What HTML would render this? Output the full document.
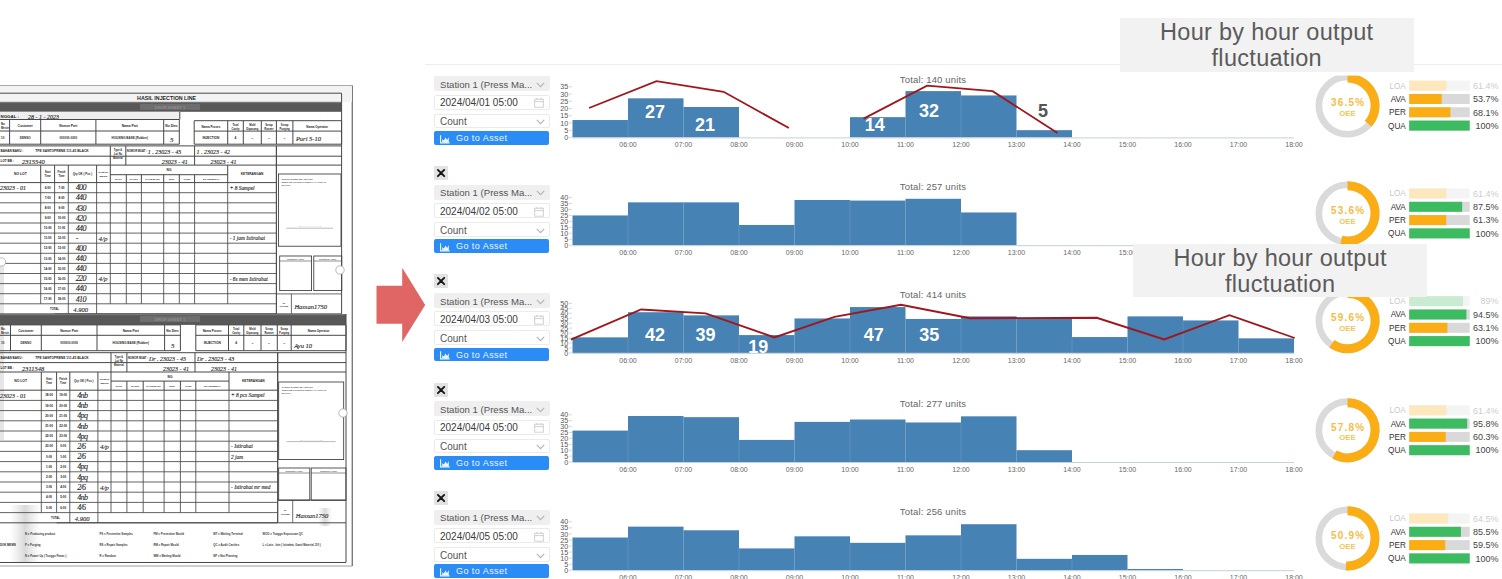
<!DOCTYPE html>
<html><head><meta charset="utf-8"><style>
*{margin:0;padding:0;box-sizing:border-box}
html,body{width:1502px;height:579px;overflow:hidden;background:#fff;font-family:'Liberation Sans', sans-serif;position:relative}
.sel{position:absolute;left:434px;width:115.6px;height:15px;background:#fff;border:1px solid #ebebeb;border-radius:2px;font-size:9.6px;color:#555;line-height:13px}
.sel span{position:absolute;left:5px;top:0.5px;white-space:nowrap}
.dis{background:#efefef;border-color:#efefef}
.btn{position:absolute;left:434px;width:115.2px;height:13.8px;background:#2b8cf6;border-radius:2px;color:#eef5ff;font-size:9px;line-height:14.6px;letter-spacing:0.45px}
.btn span{position:absolute;left:22px;top:0}
.xb{position:absolute;left:434px;width:14px;height:14px;background:#e2e2e2;border-radius:1px;font-size:10px;font-weight:bold;color:#111;text-align:center;line-height:14px}
.ttl{position:absolute;width:293.5px;height:53.5px;background:#f2f2f2;color:#5b5b5b;font-size:23.5px;line-height:26.2px;text-align:center;padding-top:1.2px;letter-spacing:0.3px}
</style></head><body>
<svg style="position:absolute;left:0;top:0" width="360" height="579" viewBox="0 0 360 579"><defs><linearGradient id="sm" x1="0" x2="1" y1="0" y2="0"><stop offset="0" stop-color="#ddd" stop-opacity="0"/><stop offset="0.5" stop-color="#d4d4d4" stop-opacity="0.9"/><stop offset="1" stop-color="#ddd" stop-opacity="0"/></linearGradient></defs><line x1="0.0" y1="85.6" x2="352.3" y2="85.6" stroke="#a0a0a0" stroke-width="1.0"/><line x1="352.3" y1="85.6" x2="352.3" y2="566.0" stroke="#7a7a7a" stroke-width="1.4"/><line x1="0.0" y1="566.0" x2="352.3" y2="566.0" stroke="#a0a0a0" stroke-width="1.0"/><rect x="0.0" y="86.2" width="352.0" height="15.6" fill="#f3f3f3" /><rect x="10.0" y="505.0" width="30.0" height="58.0" fill="url(#sm)" /><rect x="318.0" y="508.0" width="14.0" height="18.0" fill="url(#sm)" /><rect x="0.0" y="260.0" width="4.0" height="180.0" fill="#e6e6e6" /><text x="166.6" y="99.6" font-size="5.3" fill="#1e1e1e" text-anchor="middle" font-weight="bold" font-family="'Liberation Sans'" font-style="normal" letter-spacing="0">HASIL INJECTION LINE</text><line x1="0.0" y1="93.2" x2="341.6" y2="93.2" stroke="#484848" stroke-width="1.0"/><rect x="0.0" y="101.9" width="341.6" height="9.9" fill="#585858" /><rect x="0.0" y="101.9" width="341.6" height="1.2" fill="#777" /><rect x="140.0" y="103.9" width="60.0" height="6.0" fill="#6e6e6e" /><text x="170.0" y="109.1" font-size="4.2" fill="#8e8e8e" text-anchor="middle" font-weight="bold" font-family="'Liberation Sans'" font-style="normal" letter-spacing="0">DROP SHEET 1</text><rect x="0.0" y="111.8" width="179.8" height="7.7" fill="#efefef" /><line x1="179.8" y1="111.8" x2="179.8" y2="119.5" stroke="#484848" stroke-width="1.0"/><text x="0.5" y="117.8" font-size="4.4" fill="#222" text-anchor="start" font-weight="bold" font-family="'Liberation Sans'" font-style="normal" letter-spacing="0">NGGAL :</text><text x="28.0" y="119.2" font-size="6" fill="#262626" stroke="#262626" stroke-width="0.12" text-anchor="start" font-family="Liberation Serif" font-style="italic">28 - 1 - 2023</text><line x1="0.0" y1="119.5" x2="179.3" y2="119.5" stroke="#484848" stroke-width="1.0"/><line x1="0.0" y1="131.0" x2="179.3" y2="131.0" stroke="#484848" stroke-width="1.0"/><line x1="0.0" y1="144.2" x2="179.3" y2="144.2" stroke="#484848" stroke-width="1.0"/><line x1="9.6" y1="119.5" x2="9.6" y2="144.2" stroke="#484848" stroke-width="1.0"/><line x1="40.7" y1="119.5" x2="40.7" y2="144.2" stroke="#484848" stroke-width="1.0"/><line x1="95.9" y1="119.5" x2="95.9" y2="144.2" stroke="#484848" stroke-width="1.0"/><line x1="163.7" y1="119.5" x2="163.7" y2="144.2" stroke="#484848" stroke-width="1.0"/><line x1="179.3" y1="119.5" x2="179.3" y2="144.2" stroke="#484848" stroke-width="1.0"/><text x="1.0" y="124.5" font-size="2.8" fill="#1e1e1e" text-anchor="start" font-weight="bold" font-family="'Liberation Sans'" font-style="normal" letter-spacing="0">No.</text><text x="1.0" y="128.5" font-size="2.8" fill="#1e1e1e" text-anchor="start" font-weight="bold" font-family="'Liberation Sans'" font-style="normal" letter-spacing="0">Mesin</text><text x="25.2" y="126.5" font-size="3.3" fill="#1e1e1e" text-anchor="middle" font-weight="bold" font-family="'Liberation Sans'" font-style="normal" letter-spacing="0">Customer</text><text x="68.3" y="126.5" font-size="3.3" fill="#1e1e1e" text-anchor="middle" font-weight="bold" font-family="'Liberation Sans'" font-style="normal" letter-spacing="0">Nomor Part</text><text x="129.8" y="126.5" font-size="3.3" fill="#1e1e1e" text-anchor="middle" font-weight="bold" font-family="'Liberation Sans'" font-style="normal" letter-spacing="0">Nama Part</text><text x="171.5" y="126.5" font-size="3.3" fill="#1e1e1e" text-anchor="middle" font-weight="bold" font-family="'Liberation Sans'" font-style="normal" letter-spacing="0">No Dies</text><text x="25.2" y="138.8" font-size="3.0" fill="#1e1e1e" text-anchor="middle" font-weight="bold" font-family="'Liberation Sans'" font-style="normal" letter-spacing="0">DENSO</text><text x="68.3" y="138.8" font-size="3.0" fill="#1e1e1e" text-anchor="middle" font-weight="bold" font-family="'Liberation Sans'" font-style="normal" letter-spacing="0">000000-0000</text><text x="129.8" y="138.8" font-size="3.0" fill="#1e1e1e" text-anchor="middle" font-weight="bold" font-family="'Liberation Sans'" font-style="normal" letter-spacing="0">HOUSING BASE (Rubber)</text><text x="1.0" y="138.8" font-size="3.0" fill="#1e1e1e" text-anchor="start" font-weight="bold" font-family="'Liberation Sans'" font-style="normal" letter-spacing="0">10</text><text x="170.0" y="141.7" font-size="7" fill="#262626" stroke="#262626" stroke-width="0.12" text-anchor="start" font-family="Liberation Serif" font-style="italic">5</text><line x1="194.2" y1="120.7" x2="341.6" y2="120.7" stroke="#484848" stroke-width="1.0"/><line x1="194.2" y1="131.1" x2="341.6" y2="131.1" stroke="#484848" stroke-width="1.0"/><line x1="194.2" y1="144.2" x2="341.6" y2="144.2" stroke="#484848" stroke-width="1.0"/><line x1="194.2" y1="120.7" x2="194.2" y2="144.2" stroke="#484848" stroke-width="1.0"/><line x1="227.7" y1="120.7" x2="227.7" y2="144.2" stroke="#484848" stroke-width="1.0"/><line x1="243.3" y1="120.7" x2="243.3" y2="144.2" stroke="#484848" stroke-width="1.0"/><line x1="261.3" y1="120.7" x2="261.3" y2="144.2" stroke="#484848" stroke-width="1.0"/><line x1="276.4" y1="120.7" x2="276.4" y2="144.2" stroke="#484848" stroke-width="1.0"/><line x1="292.9" y1="120.7" x2="292.9" y2="144.2" stroke="#484848" stroke-width="1.0"/><line x1="341.6" y1="120.7" x2="341.6" y2="144.2" stroke="#484848" stroke-width="1.0"/><text x="210.9" y="127.7" font-size="3.0" fill="#1e1e1e" text-anchor="middle" font-weight="bold" font-family="'Liberation Sans'" font-style="normal" letter-spacing="0">Nama Proses</text><text x="235.5" y="125.7" font-size="2.7" fill="#1e1e1e" text-anchor="middle" font-weight="bold" font-family="'Liberation Sans'" font-style="normal" letter-spacing="0">Total</text><text x="235.5" y="129.7" font-size="2.7" fill="#1e1e1e" text-anchor="middle" font-weight="bold" font-family="'Liberation Sans'" font-style="normal" letter-spacing="0">Cavity</text><text x="252.3" y="125.7" font-size="2.7" fill="#1e1e1e" text-anchor="middle" font-weight="bold" font-family="'Liberation Sans'" font-style="normal" letter-spacing="0">Mold</text><text x="252.3" y="129.7" font-size="2.7" fill="#1e1e1e" text-anchor="middle" font-weight="bold" font-family="'Liberation Sans'" font-style="normal" letter-spacing="0">Dipasang</text><text x="268.9" y="125.7" font-size="2.7" fill="#1e1e1e" text-anchor="middle" font-weight="bold" font-family="'Liberation Sans'" font-style="normal" letter-spacing="0">Scrap</text><text x="268.9" y="129.7" font-size="2.7" fill="#1e1e1e" text-anchor="middle" font-weight="bold" font-family="'Liberation Sans'" font-style="normal" letter-spacing="0">Runner</text><text x="284.6" y="125.7" font-size="2.7" fill="#1e1e1e" text-anchor="middle" font-weight="bold" font-family="'Liberation Sans'" font-style="normal" letter-spacing="0">Scrap</text><text x="284.6" y="129.7" font-size="2.7" fill="#1e1e1e" text-anchor="middle" font-weight="bold" font-family="'Liberation Sans'" font-style="normal" letter-spacing="0">Purging</text><text x="317.2" y="127.7" font-size="3.0" fill="#1e1e1e" text-anchor="middle" font-weight="bold" font-family="'Liberation Sans'" font-style="normal" letter-spacing="0">Nama Operator</text><text x="210.9" y="138.8" font-size="3.2" fill="#222" text-anchor="middle" font-weight="bold" font-family="'Liberation Sans'" font-style="normal" letter-spacing="0">INJECTION</text><text x="235.5" y="138.8" font-size="3.2" fill="#222" text-anchor="middle" font-weight="bold" font-family="'Liberation Sans'" font-style="normal" letter-spacing="0">4</text><text x="251.3" y="139.6" font-size="6" fill="#262626" stroke="#262626" stroke-width="0.12" text-anchor="start" font-family="Liberation Serif" font-style="italic">-</text><text x="267.9" y="139.6" font-size="6" fill="#262626" stroke="#262626" stroke-width="0.12" text-anchor="start" font-family="Liberation Serif" font-style="italic">-</text><text x="283.6" y="139.6" font-size="6" fill="#262626" stroke="#262626" stroke-width="0.12" text-anchor="start" font-family="Liberation Serif" font-style="italic">-</text><text x="295.9" y="141.2" font-size="6.5" fill="#262626" stroke="#262626" stroke-width="0.12" text-anchor="start" font-family="Liberation Serif" font-style="italic">Puri   5-10</text><line x1="0.0" y1="145.9" x2="341.6" y2="145.9" stroke="#484848" stroke-width="1.0"/><line x1="0.0" y1="156.2" x2="341.6" y2="156.2" stroke="#484848" stroke-width="1.0"/><line x1="0.0" y1="165.1" x2="341.6" y2="165.1" stroke="#484848" stroke-width="1.0"/><line x1="110.3" y1="145.9" x2="110.3" y2="165.1" stroke="#484848" stroke-width="1.0"/><line x1="125.8" y1="145.9" x2="125.8" y2="165.1" stroke="#484848" stroke-width="1.0"/><line x1="194.6" y1="145.9" x2="194.6" y2="165.1" stroke="#484848" stroke-width="1.0"/><line x1="276.4" y1="145.9" x2="276.4" y2="165.1" stroke="#484848" stroke-width="1.0"/><text x="0.5" y="152.4" font-size="3.1" fill="#222" text-anchor="start" font-weight="bold" font-family="'Liberation Sans'" font-style="normal" letter-spacing="0">BAHAN BAKU :</text><text x="62.0" y="152.4" font-size="3.3" fill="#222" text-anchor="middle" font-weight="bold" font-family="'Liberation Sans'" font-style="normal" letter-spacing="0">TPE SANTOPRENE 111-45 BLACK</text><text x="0.5" y="162.2" font-size="3.1" fill="#222" text-anchor="start" font-weight="bold" font-family="'Liberation Sans'" font-style="normal" letter-spacing="0">LOT BB :</text><text x="22.0" y="163.6" font-size="6.5" fill="#262626" stroke="#262626" stroke-width="0.12" text-anchor="start" font-family="Liberation Serif" font-style="italic">2315540</text><text x="118.0" y="151.4" font-size="2.6" fill="#1e1e1e" text-anchor="middle" font-weight="bold" font-family="'Liberation Sans'" font-style="normal" letter-spacing="0">Type &amp;</text><text x="118.0" y="155.4" font-size="2.6" fill="#1e1e1e" text-anchor="middle" font-weight="bold" font-family="'Liberation Sans'" font-style="normal" letter-spacing="0">Lot No</text><text x="118.0" y="159.4" font-size="2.6" fill="#1e1e1e" text-anchor="middle" font-weight="bold" font-family="'Liberation Sans'" font-style="normal" letter-spacing="0">Material</text><text x="126.8" y="152.4" font-size="2.7" fill="#1e1e1e" text-anchor="start" font-weight="bold" font-family="'Liberation Sans'" font-style="normal" letter-spacing="0">NOMOR MUAT :</text><text x="147.8" y="154.4" font-size="6" fill="#262626" stroke="#262626" stroke-width="0.12" text-anchor="start" font-family="Liberation Serif" font-style="italic">1 . 23023 - 45</text><text x="161.8" y="163.6" font-size="6" fill="#262626" stroke="#262626" stroke-width="0.12" text-anchor="start" font-family="Liberation Serif" font-style="italic">23023 - 41</text><text x="196.6" y="154.4" font-size="6" fill="#262626" stroke="#262626" stroke-width="0.12" text-anchor="start" font-family="Liberation Serif" font-style="italic">1 . 23023 - 42</text><text x="210.6" y="163.6" font-size="6" fill="#262626" stroke="#262626" stroke-width="0.12" text-anchor="start" font-family="Liberation Serif" font-style="italic">23023 - 41</text><line x1="0.0" y1="182.6" x2="276.4" y2="182.6" stroke="#484848" stroke-width="1.0"/><line x1="110.3" y1="174.7" x2="227.7" y2="174.7" stroke="#484848" stroke-width="1.0"/><line x1="40.7" y1="165.1" x2="40.7" y2="182.6" stroke="#484848" stroke-width="1.0"/><line x1="54.6" y1="165.1" x2="54.6" y2="182.6" stroke="#484848" stroke-width="1.0"/><line x1="68.3" y1="165.1" x2="68.3" y2="182.6" stroke="#484848" stroke-width="1.0"/><line x1="96.6" y1="165.1" x2="96.6" y2="182.6" stroke="#484848" stroke-width="1.0"/><line x1="110.3" y1="165.1" x2="110.3" y2="182.6" stroke="#484848" stroke-width="1.0"/><line x1="126.3" y1="174.7" x2="126.3" y2="182.6" stroke="#484848" stroke-width="1.0"/><line x1="141.4" y1="174.7" x2="141.4" y2="182.6" stroke="#484848" stroke-width="1.0"/><line x1="163.7" y1="174.7" x2="163.7" y2="182.6" stroke="#484848" stroke-width="1.0"/><line x1="179.3" y1="174.7" x2="179.3" y2="182.6" stroke="#484848" stroke-width="1.0"/><line x1="194.6" y1="174.7" x2="194.6" y2="182.6" stroke="#484848" stroke-width="1.0"/><line x1="227.7" y1="165.1" x2="227.7" y2="182.6" stroke="#484848" stroke-width="1.0"/><line x1="276.4" y1="165.1" x2="276.4" y2="182.6" stroke="#484848" stroke-width="1.0"/><text x="20.4" y="175.0" font-size="3.4" fill="#222" text-anchor="middle" font-weight="bold" font-family="'Liberation Sans'" font-style="normal" letter-spacing="0">NO LOT</text><text x="47.7" y="172.8" font-size="2.7" fill="#1e1e1e" text-anchor="middle" font-weight="bold" font-family="'Liberation Sans'" font-style="normal" letter-spacing="0">Start</text><text x="47.7" y="176.8" font-size="2.7" fill="#1e1e1e" text-anchor="middle" font-weight="bold" font-family="'Liberation Sans'" font-style="normal" letter-spacing="0">Time</text><text x="61.5" y="172.8" font-size="2.7" fill="#1e1e1e" text-anchor="middle" font-weight="bold" font-family="'Liberation Sans'" font-style="normal" letter-spacing="0">Finish</text><text x="61.5" y="176.8" font-size="2.7" fill="#1e1e1e" text-anchor="middle" font-weight="bold" font-family="'Liberation Sans'" font-style="normal" letter-spacing="0">Time</text><text x="82.4" y="175.0" font-size="2.9" fill="#1e1e1e" text-anchor="middle" font-weight="bold" font-family="'Liberation Sans'" font-style="normal" letter-spacing="0">Qty OK ( Pcs )</text><text x="103.4" y="172.8" font-size="2.5" fill="#1e1e1e" text-anchor="middle" font-weight="bold" font-family="'Liberation Sans'" font-style="normal" letter-spacing="0">NOMOR</text><text x="103.4" y="176.8" font-size="2.5" fill="#1e1e1e" text-anchor="middle" font-weight="bold" font-family="'Liberation Sans'" font-style="normal" letter-spacing="0">MESIN</text><text x="169.0" y="171.1" font-size="3.2" fill="#222" text-anchor="middle" font-weight="bold" font-family="'Liberation Sans'" font-style="normal" letter-spacing="0">NG</text><text x="118.3" y="179.6" font-size="2.4" fill="#1e1e1e" text-anchor="middle" font-weight="bold" font-family="'Liberation Sans'" font-style="normal" letter-spacing="0">SHOT</text><text x="133.8" y="179.6" font-size="2.4" fill="#1e1e1e" text-anchor="middle" font-weight="bold" font-family="'Liberation Sans'" font-style="normal" letter-spacing="0">SHORT</text><text x="152.6" y="179.6" font-size="2.4" fill="#1e1e1e" text-anchor="middle" font-weight="bold" font-family="'Liberation Sans'" font-style="normal" letter-spacing="0">FLOW MARK</text><text x="171.5" y="179.6" font-size="2.4" fill="#1e1e1e" text-anchor="middle" font-weight="bold" font-family="'Liberation Sans'" font-style="normal" letter-spacing="0">SINK</text><text x="186.9" y="179.6" font-size="2.4" fill="#1e1e1e" text-anchor="middle" font-weight="bold" font-family="'Liberation Sans'" font-style="normal" letter-spacing="0">OVER</text><text x="211.1" y="179.6" font-size="2.4" fill="#1e1e1e" text-anchor="middle" font-weight="bold" font-family="'Liberation Sans'" font-style="normal" letter-spacing="0">NG TERMINAL</text><text x="252.0" y="175.0" font-size="3.2" fill="#222" text-anchor="middle" font-weight="bold" font-family="'Liberation Sans'" font-style="normal" letter-spacing="0">KETERANGAN</text><line x1="0.0" y1="192.7" x2="276.4" y2="192.7" stroke="#484848" stroke-width="0.85"/><line x1="0.0" y1="202.8" x2="276.4" y2="202.8" stroke="#484848" stroke-width="0.85"/><line x1="0.0" y1="212.9" x2="276.4" y2="212.9" stroke="#484848" stroke-width="0.85"/><line x1="0.0" y1="223.0" x2="276.4" y2="223.0" stroke="#484848" stroke-width="0.85"/><line x1="0.0" y1="233.1" x2="276.4" y2="233.1" stroke="#484848" stroke-width="0.85"/><line x1="0.0" y1="243.2" x2="276.4" y2="243.2" stroke="#484848" stroke-width="0.85"/><line x1="0.0" y1="253.3" x2="276.4" y2="253.3" stroke="#484848" stroke-width="0.85"/><line x1="0.0" y1="263.4" x2="276.4" y2="263.4" stroke="#484848" stroke-width="0.85"/><line x1="0.0" y1="273.5" x2="276.4" y2="273.5" stroke="#484848" stroke-width="0.85"/><line x1="0.0" y1="283.6" x2="276.4" y2="283.6" stroke="#484848" stroke-width="0.85"/><line x1="0.0" y1="293.7" x2="276.4" y2="293.7" stroke="#484848" stroke-width="0.85"/><line x1="0.0" y1="303.8" x2="276.4" y2="303.8" stroke="#484848" stroke-width="0.85"/><line x1="54.6" y1="313.9" x2="276.4" y2="313.9" stroke="#484848" stroke-width="0.85"/><line x1="40.7" y1="182.6" x2="40.7" y2="303.8" stroke="#484848" stroke-width="0.85"/><line x1="54.6" y1="182.6" x2="54.6" y2="303.8" stroke="#484848" stroke-width="0.85"/><line x1="68.3" y1="182.6" x2="68.3" y2="313.9" stroke="#484848" stroke-width="0.85"/><line x1="96.6" y1="182.6" x2="96.6" y2="313.9" stroke="#484848" stroke-width="0.85"/><line x1="110.3" y1="182.6" x2="110.3" y2="303.8" stroke="#484848" stroke-width="0.85"/><line x1="126.3" y1="182.6" x2="126.3" y2="303.8" stroke="#484848" stroke-width="0.85"/><line x1="141.4" y1="182.6" x2="141.4" y2="303.8" stroke="#484848" stroke-width="0.85"/><line x1="163.7" y1="182.6" x2="163.7" y2="303.8" stroke="#484848" stroke-width="0.85"/><line x1="179.3" y1="182.6" x2="179.3" y2="303.8" stroke="#484848" stroke-width="0.85"/><line x1="194.6" y1="182.6" x2="194.6" y2="303.8" stroke="#484848" stroke-width="0.85"/><line x1="227.7" y1="182.6" x2="227.7" y2="303.8" stroke="#484848" stroke-width="0.85"/><line x1="276.4" y1="182.6" x2="276.4" y2="313.9" stroke="#484848" stroke-width="0.85"/><text x="47.7" y="188.8" font-size="3.0" fill="#111" text-anchor="middle" font-weight="bold" font-family="'Liberation Sans'" font-style="normal" letter-spacing="0">6:00</text><text x="61.5" y="188.8" font-size="3.0" fill="#111" text-anchor="middle" font-weight="bold" font-family="'Liberation Sans'" font-style="normal" letter-spacing="0">7:00</text><text x="75.8" y="190.3" font-size="8" letter-spacing="-0.7" fill="#2a2a2a" stroke="#2a2a2a" stroke-width="0.12" font-family="Liberation Serif" font-style="italic">400</text><text x="47.7" y="198.8" font-size="3.0" fill="#111" text-anchor="middle" font-weight="bold" font-family="'Liberation Sans'" font-style="normal" letter-spacing="0">7:00</text><text x="61.5" y="198.8" font-size="3.0" fill="#111" text-anchor="middle" font-weight="bold" font-family="'Liberation Sans'" font-style="normal" letter-spacing="0">8:00</text><text x="75.8" y="200.4" font-size="8" letter-spacing="-0.7" fill="#2a2a2a" stroke="#2a2a2a" stroke-width="0.12" font-family="Liberation Serif" font-style="italic">440</text><text x="47.7" y="208.9" font-size="3.0" fill="#111" text-anchor="middle" font-weight="bold" font-family="'Liberation Sans'" font-style="normal" letter-spacing="0">8:00</text><text x="61.5" y="208.9" font-size="3.0" fill="#111" text-anchor="middle" font-weight="bold" font-family="'Liberation Sans'" font-style="normal" letter-spacing="0">9:00</text><text x="75.8" y="210.5" font-size="8" letter-spacing="-0.7" fill="#2a2a2a" stroke="#2a2a2a" stroke-width="0.12" font-family="Liberation Serif" font-style="italic">430</text><text x="47.7" y="219.0" font-size="3.0" fill="#111" text-anchor="middle" font-weight="bold" font-family="'Liberation Sans'" font-style="normal" letter-spacing="0">9:00</text><text x="61.5" y="219.0" font-size="3.0" fill="#111" text-anchor="middle" font-weight="bold" font-family="'Liberation Sans'" font-style="normal" letter-spacing="0">10:00</text><text x="75.8" y="220.6" font-size="8" letter-spacing="-0.7" fill="#2a2a2a" stroke="#2a2a2a" stroke-width="0.12" font-family="Liberation Serif" font-style="italic">420</text><text x="47.7" y="229.2" font-size="3.0" fill="#111" text-anchor="middle" font-weight="bold" font-family="'Liberation Sans'" font-style="normal" letter-spacing="0">10:00</text><text x="61.5" y="229.2" font-size="3.0" fill="#111" text-anchor="middle" font-weight="bold" font-family="'Liberation Sans'" font-style="normal" letter-spacing="0">11:00</text><text x="75.8" y="230.8" font-size="8" letter-spacing="-0.7" fill="#2a2a2a" stroke="#2a2a2a" stroke-width="0.12" font-family="Liberation Serif" font-style="italic">440</text><text x="47.7" y="239.2" font-size="3.0" fill="#111" text-anchor="middle" font-weight="bold" font-family="'Liberation Sans'" font-style="normal" letter-spacing="0">11:00</text><text x="61.5" y="239.2" font-size="3.0" fill="#111" text-anchor="middle" font-weight="bold" font-family="'Liberation Sans'" font-style="normal" letter-spacing="0">12:00</text><text x="75.8" y="240.8" font-size="8" letter-spacing="-0.7" fill="#2a2a2a" stroke="#2a2a2a" stroke-width="0.12" font-family="Liberation Serif" font-style="italic">-</text><text x="47.7" y="249.3" font-size="3.0" fill="#111" text-anchor="middle" font-weight="bold" font-family="'Liberation Sans'" font-style="normal" letter-spacing="0">12:00</text><text x="61.5" y="249.3" font-size="3.0" fill="#111" text-anchor="middle" font-weight="bold" font-family="'Liberation Sans'" font-style="normal" letter-spacing="0">13:00</text><text x="75.8" y="250.9" font-size="8" letter-spacing="-0.7" fill="#2a2a2a" stroke="#2a2a2a" stroke-width="0.12" font-family="Liberation Serif" font-style="italic">400</text><text x="47.7" y="259.5" font-size="3.0" fill="#111" text-anchor="middle" font-weight="bold" font-family="'Liberation Sans'" font-style="normal" letter-spacing="0">13:00</text><text x="61.5" y="259.5" font-size="3.0" fill="#111" text-anchor="middle" font-weight="bold" font-family="'Liberation Sans'" font-style="normal" letter-spacing="0">14:00</text><text x="75.8" y="261.1" font-size="8" letter-spacing="-0.7" fill="#2a2a2a" stroke="#2a2a2a" stroke-width="0.12" font-family="Liberation Serif" font-style="italic">440</text><text x="47.7" y="269.6" font-size="3.0" fill="#111" text-anchor="middle" font-weight="bold" font-family="'Liberation Sans'" font-style="normal" letter-spacing="0">14:00</text><text x="61.5" y="269.6" font-size="3.0" fill="#111" text-anchor="middle" font-weight="bold" font-family="'Liberation Sans'" font-style="normal" letter-spacing="0">15:00</text><text x="75.8" y="271.2" font-size="8" letter-spacing="-0.7" fill="#2a2a2a" stroke="#2a2a2a" stroke-width="0.12" font-family="Liberation Serif" font-style="italic">440</text><text x="47.7" y="279.7" font-size="3.0" fill="#111" text-anchor="middle" font-weight="bold" font-family="'Liberation Sans'" font-style="normal" letter-spacing="0">15:00</text><text x="61.5" y="279.7" font-size="3.0" fill="#111" text-anchor="middle" font-weight="bold" font-family="'Liberation Sans'" font-style="normal" letter-spacing="0">16:00</text><text x="75.8" y="281.3" font-size="8" letter-spacing="-0.7" fill="#2a2a2a" stroke="#2a2a2a" stroke-width="0.12" font-family="Liberation Serif" font-style="italic">220</text><text x="47.7" y="289.8" font-size="3.0" fill="#111" text-anchor="middle" font-weight="bold" font-family="'Liberation Sans'" font-style="normal" letter-spacing="0">16:00</text><text x="61.5" y="289.8" font-size="3.0" fill="#111" text-anchor="middle" font-weight="bold" font-family="'Liberation Sans'" font-style="normal" letter-spacing="0">17:00</text><text x="75.8" y="291.4" font-size="8" letter-spacing="-0.7" fill="#2a2a2a" stroke="#2a2a2a" stroke-width="0.12" font-family="Liberation Serif" font-style="italic">440</text><text x="47.7" y="299.9" font-size="3.0" fill="#111" text-anchor="middle" font-weight="bold" font-family="'Liberation Sans'" font-style="normal" letter-spacing="0">17:00</text><text x="61.5" y="299.9" font-size="3.0" fill="#111" text-anchor="middle" font-weight="bold" font-family="'Liberation Sans'" font-style="normal" letter-spacing="0">18:00</text><text x="75.8" y="301.5" font-size="8" letter-spacing="-0.7" fill="#2a2a2a" stroke="#2a2a2a" stroke-width="0.12" font-family="Liberation Serif" font-style="italic">410</text><text x="54.5" y="309.9" font-size="2.8" fill="#222" text-anchor="middle" font-weight="bold" font-family="'Liberation Sans'" font-style="normal" letter-spacing="0">TOTAL</text><text x="73.3" y="311.9" font-size="6.5" fill="#262626" stroke="#262626" stroke-width="0.12" text-anchor="start" font-family="Liberation Serif" font-style="italic">4.900</text><text x="0.0" y="189.8" font-size="6" fill="#262626" stroke="#262626" stroke-width="0.12" text-anchor="start" font-family="Liberation Serif" font-style="italic">23023 - 01</text><text x="229.7" y="189.7" font-size="5.4" fill="#262626" stroke="#262626" stroke-width="0.12" text-anchor="start" font-family="Liberation Serif" font-style="italic">+ 8 Sampel</text><text x="229.7" y="240.2" font-size="5.4" fill="#262626" stroke="#262626" stroke-width="0.12" text-anchor="start" font-family="Liberation Serif" font-style="italic">- 1 jam Istirahat</text><text x="229.7" y="280.6" font-size="5.4" fill="#262626" stroke="#262626" stroke-width="0.12" text-anchor="start" font-family="Liberation Serif" font-style="italic">- 6s men Istirahat</text><text x="98.6" y="240.7" font-size="7" fill="#262626" stroke="#262626" stroke-width="0.12" text-anchor="start" font-family="Liberation Serif" font-style="italic">4/p</text><text x="98.6" y="281.1" font-size="7" fill="#262626" stroke="#262626" stroke-width="0.12" text-anchor="start" font-family="Liberation Serif" font-style="italic">4/p</text><rect x="278.4" y="174.0" width="62.6" height="72.2" fill="none" stroke="#2e2e2e" stroke-width="0.8"/><text x="281.4" y="180.0" font-size="2.4" fill="#444" text-anchor="start" font-weight="bold" font-family="'Liberation Sans'" font-style="normal" letter-spacing="0">CHECK SHEET 5S / RUANG</text><text x="281.4" y="183.0" font-size="2.2" fill="#555" text-anchor="start" font-weight="bold" font-family="'Liberation Sans'" font-style="normal" letter-spacing="0">SEBELUM PRODUKSI DIMULAI (LAKUKAN</text><text x="281.4" y="186.0" font-size="2.2" fill="#555" text-anchor="start" font-weight="bold" font-family="'Liberation Sans'" font-style="normal" letter-spacing="0">MOTOR )</text><line x1="286.4" y1="228.2" x2="333.0" y2="228.2" stroke="#777" stroke-width="0.5"/><text x="309.7" y="227.2" font-size="2.4" fill="#666" text-anchor="middle" font-weight="bold" font-family="'Liberation Sans'" font-style="normal" letter-spacing="0">(..............................)</text><rect x="279.7" y="256.0" width="31.9" height="34.6" fill="none" stroke="#2e2e2e" stroke-width="0.8"/><line x1="279.7" y1="261.0" x2="311.6" y2="261.0" stroke="#484848" stroke-width="0.6"/><text x="295.6" y="259.6" font-size="2.0" fill="#444" text-anchor="middle" font-weight="bold" font-family="'Liberation Sans'" font-style="normal" letter-spacing="0">DIPERIKSA OLEH</text><rect x="313.8" y="256.0" width="28.0" height="34.6" fill="none" stroke="#2e2e2e" stroke-width="0.8"/><line x1="313.8" y1="261.0" x2="341.8" y2="261.0" stroke="#484848" stroke-width="0.6"/><text x="327.8" y="259.6" font-size="2.0" fill="#444" text-anchor="middle" font-weight="bold" font-family="'Liberation Sans'" font-style="normal" letter-spacing="0">DIPERIKSA OLEH</text><line x1="276.4" y1="293.9" x2="341.6" y2="293.9" stroke="#484848" stroke-width="0.8"/><line x1="291.4" y1="293.9" x2="291.4" y2="313.9" stroke="#484848" stroke-width="0.8"/><text x="283.9" y="303.9" font-size="2.4" fill="#1e1e1e" text-anchor="middle" font-weight="bold" font-family="'Liberation Sans'" font-style="normal" letter-spacing="0">Di</text><text x="283.9" y="307.3" font-size="2.4" fill="#1e1e1e" text-anchor="middle" font-weight="bold" font-family="'Liberation Sans'" font-style="normal" letter-spacing="0">Periksa</text><text x="294.4" y="308.9" font-size="6.5" fill="#262626" stroke="#262626" stroke-width="0.12" text-anchor="start" font-family="Liberation Serif" font-style="italic">Hassan1750</text><line x1="0.0" y1="313.9" x2="341.6" y2="313.9" stroke="#484848" stroke-width="1.0"/><line x1="341.6" y1="93.2" x2="341.6" y2="313.9" stroke="#484848" stroke-width="1.0"/><line x1="276.4" y1="145.9" x2="276.4" y2="313.9" stroke="#484848" stroke-width="0.95"/><rect x="0.0" y="314.0" width="346.0" height="10.9" fill="#585858" /><rect x="0.0" y="314.0" width="346.0" height="1.2" fill="#777" /><rect x="140.0" y="316.0" width="60.0" height="6.0" fill="#6e6e6e" /><text x="170.0" y="321.2" font-size="4.2" fill="#8e8e8e" text-anchor="middle" font-weight="bold" font-family="'Liberation Sans'" font-style="normal" letter-spacing="0">DROP SHEET 1</text><line x1="0.0" y1="324.9" x2="180.4" y2="324.9" stroke="#484848" stroke-width="1.0"/><line x1="0.0" y1="335.3" x2="180.4" y2="335.3" stroke="#484848" stroke-width="1.0"/><line x1="0.0" y1="350.7" x2="180.4" y2="350.7" stroke="#484848" stroke-width="1.0"/><line x1="10.5" y1="324.9" x2="10.5" y2="350.7" stroke="#484848" stroke-width="1.0"/><line x1="41.3" y1="324.9" x2="41.3" y2="350.7" stroke="#484848" stroke-width="1.0"/><line x1="97.0" y1="324.9" x2="97.0" y2="350.7" stroke="#484848" stroke-width="1.0"/><line x1="164.6" y1="324.9" x2="164.6" y2="350.7" stroke="#484848" stroke-width="1.0"/><line x1="180.4" y1="324.9" x2="180.4" y2="350.7" stroke="#484848" stroke-width="1.0"/><text x="1.0" y="329.9" font-size="2.8" fill="#1e1e1e" text-anchor="start" font-weight="bold" font-family="'Liberation Sans'" font-style="normal" letter-spacing="0">No.</text><text x="1.0" y="333.9" font-size="2.8" fill="#1e1e1e" text-anchor="start" font-weight="bold" font-family="'Liberation Sans'" font-style="normal" letter-spacing="0">Mesin</text><text x="25.9" y="331.9" font-size="3.3" fill="#1e1e1e" text-anchor="middle" font-weight="bold" font-family="'Liberation Sans'" font-style="normal" letter-spacing="0">Customer</text><text x="69.2" y="331.9" font-size="3.3" fill="#1e1e1e" text-anchor="middle" font-weight="bold" font-family="'Liberation Sans'" font-style="normal" letter-spacing="0">Nomor Part</text><text x="130.8" y="331.9" font-size="3.3" fill="#1e1e1e" text-anchor="middle" font-weight="bold" font-family="'Liberation Sans'" font-style="normal" letter-spacing="0">Nama Part</text><text x="172.5" y="331.9" font-size="3.3" fill="#1e1e1e" text-anchor="middle" font-weight="bold" font-family="'Liberation Sans'" font-style="normal" letter-spacing="0">No Dies</text><text x="25.9" y="344.2" font-size="3.0" fill="#1e1e1e" text-anchor="middle" font-weight="bold" font-family="'Liberation Sans'" font-style="normal" letter-spacing="0">DENSO</text><text x="69.2" y="344.2" font-size="3.0" fill="#1e1e1e" text-anchor="middle" font-weight="bold" font-family="'Liberation Sans'" font-style="normal" letter-spacing="0">000000-0000</text><text x="130.8" y="344.2" font-size="3.0" fill="#1e1e1e" text-anchor="middle" font-weight="bold" font-family="'Liberation Sans'" font-style="normal" letter-spacing="0">HOUSING BASE (Rubber)</text><text x="1.0" y="344.2" font-size="3.0" fill="#1e1e1e" text-anchor="start" font-weight="bold" font-family="'Liberation Sans'" font-style="normal" letter-spacing="0">10</text><text x="171.0" y="348.2" font-size="7" fill="#262626" stroke="#262626" stroke-width="0.12" text-anchor="start" font-family="Liberation Serif" font-style="italic">5</text><line x1="195.8" y1="324.9" x2="346.0" y2="324.9" stroke="#484848" stroke-width="1.0"/><line x1="195.8" y1="335.3" x2="346.0" y2="335.3" stroke="#484848" stroke-width="1.0"/><line x1="195.8" y1="350.7" x2="346.0" y2="350.7" stroke="#484848" stroke-width="1.0"/><line x1="195.8" y1="324.9" x2="195.8" y2="350.7" stroke="#484848" stroke-width="1.0"/><line x1="228.5" y1="324.9" x2="228.5" y2="350.7" stroke="#484848" stroke-width="1.0"/><line x1="243.8" y1="324.9" x2="243.8" y2="350.7" stroke="#484848" stroke-width="1.0"/><line x1="261.0" y1="324.9" x2="261.0" y2="350.7" stroke="#484848" stroke-width="1.0"/><line x1="277.3" y1="324.9" x2="277.3" y2="350.7" stroke="#484848" stroke-width="1.0"/><line x1="291.2" y1="324.9" x2="291.2" y2="350.7" stroke="#484848" stroke-width="1.0"/><line x1="346.0" y1="324.9" x2="346.0" y2="350.7" stroke="#484848" stroke-width="1.0"/><text x="212.2" y="331.9" font-size="3.0" fill="#1e1e1e" text-anchor="middle" font-weight="bold" font-family="'Liberation Sans'" font-style="normal" letter-spacing="0">Nama Proses</text><text x="236.2" y="329.9" font-size="2.7" fill="#1e1e1e" text-anchor="middle" font-weight="bold" font-family="'Liberation Sans'" font-style="normal" letter-spacing="0">Total</text><text x="236.2" y="333.9" font-size="2.7" fill="#1e1e1e" text-anchor="middle" font-weight="bold" font-family="'Liberation Sans'" font-style="normal" letter-spacing="0">Cavity</text><text x="252.4" y="329.9" font-size="2.7" fill="#1e1e1e" text-anchor="middle" font-weight="bold" font-family="'Liberation Sans'" font-style="normal" letter-spacing="0">Mold</text><text x="252.4" y="333.9" font-size="2.7" fill="#1e1e1e" text-anchor="middle" font-weight="bold" font-family="'Liberation Sans'" font-style="normal" letter-spacing="0">Dipasang</text><text x="269.1" y="329.9" font-size="2.7" fill="#1e1e1e" text-anchor="middle" font-weight="bold" font-family="'Liberation Sans'" font-style="normal" letter-spacing="0">Scrap</text><text x="269.1" y="333.9" font-size="2.7" fill="#1e1e1e" text-anchor="middle" font-weight="bold" font-family="'Liberation Sans'" font-style="normal" letter-spacing="0">Runner</text><text x="284.2" y="329.9" font-size="2.7" fill="#1e1e1e" text-anchor="middle" font-weight="bold" font-family="'Liberation Sans'" font-style="normal" letter-spacing="0">Scrap</text><text x="284.2" y="333.9" font-size="2.7" fill="#1e1e1e" text-anchor="middle" font-weight="bold" font-family="'Liberation Sans'" font-style="normal" letter-spacing="0">Purging</text><text x="318.6" y="331.9" font-size="3.0" fill="#1e1e1e" text-anchor="middle" font-weight="bold" font-family="'Liberation Sans'" font-style="normal" letter-spacing="0">Nama Operator</text><text x="212.2" y="344.2" font-size="3.2" fill="#222" text-anchor="middle" font-weight="bold" font-family="'Liberation Sans'" font-style="normal" letter-spacing="0">INJECTION</text><text x="236.2" y="344.2" font-size="3.2" fill="#222" text-anchor="middle" font-weight="bold" font-family="'Liberation Sans'" font-style="normal" letter-spacing="0">4</text><text x="251.4" y="345.0" font-size="6" fill="#262626" stroke="#262626" stroke-width="0.12" text-anchor="start" font-family="Liberation Serif" font-style="italic">-</text><text x="268.1" y="345.0" font-size="6" fill="#262626" stroke="#262626" stroke-width="0.12" text-anchor="start" font-family="Liberation Serif" font-style="italic">-</text><text x="283.2" y="345.0" font-size="6" fill="#262626" stroke="#262626" stroke-width="0.12" text-anchor="start" font-family="Liberation Serif" font-style="italic">-</text><text x="294.2" y="347.7" font-size="6.5" fill="#262626" stroke="#262626" stroke-width="0.12" text-anchor="start" font-family="Liberation Serif" font-style="italic">Ayu   10</text><line x1="0.0" y1="352.7" x2="346.0" y2="352.7" stroke="#484848" stroke-width="1.0"/><line x1="0.0" y1="362.6" x2="346.0" y2="362.6" stroke="#484848" stroke-width="1.0"/><line x1="0.0" y1="372.0" x2="346.0" y2="372.0" stroke="#484848" stroke-width="1.0"/><line x1="111.0" y1="352.7" x2="111.0" y2="372.0" stroke="#484848" stroke-width="1.0"/><line x1="126.9" y1="352.7" x2="126.9" y2="372.0" stroke="#484848" stroke-width="1.0"/><line x1="195.0" y1="352.7" x2="195.0" y2="372.0" stroke="#484848" stroke-width="1.0"/><line x1="277.7" y1="352.7" x2="277.7" y2="372.0" stroke="#484848" stroke-width="1.0"/><text x="0.5" y="359.2" font-size="3.1" fill="#222" text-anchor="start" font-weight="bold" font-family="'Liberation Sans'" font-style="normal" letter-spacing="0">BAHAN BAKU :</text><text x="62.0" y="359.2" font-size="3.3" fill="#222" text-anchor="middle" font-weight="bold" font-family="'Liberation Sans'" font-style="normal" letter-spacing="0">TPE SANTOPRENE 111-45 BLACK</text><text x="0.5" y="368.6" font-size="3.1" fill="#222" text-anchor="start" font-weight="bold" font-family="'Liberation Sans'" font-style="normal" letter-spacing="0">LOT BB :</text><text x="22.0" y="370.5" font-size="6.5" fill="#262626" stroke="#262626" stroke-width="0.12" text-anchor="start" font-family="Liberation Serif" font-style="italic">2311548</text><text x="119.0" y="358.2" font-size="2.6" fill="#1e1e1e" text-anchor="middle" font-weight="bold" font-family="'Liberation Sans'" font-style="normal" letter-spacing="0">Type &amp;</text><text x="119.0" y="362.2" font-size="2.6" fill="#1e1e1e" text-anchor="middle" font-weight="bold" font-family="'Liberation Sans'" font-style="normal" letter-spacing="0">Lot No</text><text x="119.0" y="366.2" font-size="2.6" fill="#1e1e1e" text-anchor="middle" font-weight="bold" font-family="'Liberation Sans'" font-style="normal" letter-spacing="0">Material</text><text x="127.9" y="359.2" font-size="2.7" fill="#1e1e1e" text-anchor="start" font-weight="bold" font-family="'Liberation Sans'" font-style="normal" letter-spacing="0">NOMOR MUAT :</text><text x="148.9" y="361.2" font-size="6" fill="#262626" stroke="#262626" stroke-width="0.12" text-anchor="start" font-family="Liberation Serif" font-style="italic">Dr . 23023 - 45</text><text x="162.9" y="370.5" font-size="6" fill="#262626" stroke="#262626" stroke-width="0.12" text-anchor="start" font-family="Liberation Serif" font-style="italic">23023 - 41</text><text x="197.0" y="361.2" font-size="6" fill="#262626" stroke="#262626" stroke-width="0.12" text-anchor="start" font-family="Liberation Serif" font-style="italic">Dr . 23023 - 43</text><text x="211.0" y="370.5" font-size="6" fill="#262626" stroke="#262626" stroke-width="0.12" text-anchor="start" font-family="Liberation Serif" font-style="italic">23023 - 41</text><line x1="0.0" y1="390.2" x2="277.7" y2="390.2" stroke="#484848" stroke-width="1.0"/><line x1="111.0" y1="381.1" x2="229.0" y2="381.1" stroke="#484848" stroke-width="1.0"/><line x1="41.3" y1="372.0" x2="41.3" y2="390.2" stroke="#484848" stroke-width="1.0"/><line x1="56.6" y1="372.0" x2="56.6" y2="390.2" stroke="#484848" stroke-width="1.0"/><line x1="69.8" y1="372.0" x2="69.8" y2="390.2" stroke="#484848" stroke-width="1.0"/><line x1="97.9" y1="372.0" x2="97.9" y2="390.2" stroke="#484848" stroke-width="1.0"/><line x1="111.0" y1="372.0" x2="111.0" y2="390.2" stroke="#484848" stroke-width="1.0"/><line x1="126.9" y1="381.1" x2="126.9" y2="390.2" stroke="#484848" stroke-width="1.0"/><line x1="143.2" y1="381.1" x2="143.2" y2="390.2" stroke="#484848" stroke-width="1.0"/><line x1="164.1" y1="381.1" x2="164.1" y2="390.2" stroke="#484848" stroke-width="1.0"/><line x1="180.4" y1="381.1" x2="180.4" y2="390.2" stroke="#484848" stroke-width="1.0"/><line x1="195.8" y1="381.1" x2="195.8" y2="390.2" stroke="#484848" stroke-width="1.0"/><line x1="229.0" y1="372.0" x2="229.0" y2="390.2" stroke="#484848" stroke-width="1.0"/><line x1="277.7" y1="372.0" x2="277.7" y2="390.2" stroke="#484848" stroke-width="1.0"/><text x="20.6" y="382.3" font-size="3.4" fill="#222" text-anchor="middle" font-weight="bold" font-family="'Liberation Sans'" font-style="normal" letter-spacing="0">NO LOT</text><text x="49.0" y="380.1" font-size="2.7" fill="#1e1e1e" text-anchor="middle" font-weight="bold" font-family="'Liberation Sans'" font-style="normal" letter-spacing="0">Start</text><text x="49.0" y="384.1" font-size="2.7" fill="#1e1e1e" text-anchor="middle" font-weight="bold" font-family="'Liberation Sans'" font-style="normal" letter-spacing="0">Time</text><text x="63.2" y="380.1" font-size="2.7" fill="#1e1e1e" text-anchor="middle" font-weight="bold" font-family="'Liberation Sans'" font-style="normal" letter-spacing="0">Finish</text><text x="63.2" y="384.1" font-size="2.7" fill="#1e1e1e" text-anchor="middle" font-weight="bold" font-family="'Liberation Sans'" font-style="normal" letter-spacing="0">Time</text><text x="83.8" y="382.3" font-size="2.9" fill="#1e1e1e" text-anchor="middle" font-weight="bold" font-family="'Liberation Sans'" font-style="normal" letter-spacing="0">Qty OK ( Pcs )</text><text x="104.5" y="380.1" font-size="2.5" fill="#1e1e1e" text-anchor="middle" font-weight="bold" font-family="'Liberation Sans'" font-style="normal" letter-spacing="0">NOMOR</text><text x="104.5" y="384.1" font-size="2.5" fill="#1e1e1e" text-anchor="middle" font-weight="bold" font-family="'Liberation Sans'" font-style="normal" letter-spacing="0">MESIN</text><text x="170.0" y="377.8" font-size="3.2" fill="#222" text-anchor="middle" font-weight="bold" font-family="'Liberation Sans'" font-style="normal" letter-spacing="0">NG</text><text x="119.0" y="386.6" font-size="2.4" fill="#1e1e1e" text-anchor="middle" font-weight="bold" font-family="'Liberation Sans'" font-style="normal" letter-spacing="0">SHOT</text><text x="135.1" y="386.6" font-size="2.4" fill="#1e1e1e" text-anchor="middle" font-weight="bold" font-family="'Liberation Sans'" font-style="normal" letter-spacing="0">SHORT</text><text x="153.6" y="386.6" font-size="2.4" fill="#1e1e1e" text-anchor="middle" font-weight="bold" font-family="'Liberation Sans'" font-style="normal" letter-spacing="0">FLOW MARK</text><text x="172.2" y="386.6" font-size="2.4" fill="#1e1e1e" text-anchor="middle" font-weight="bold" font-family="'Liberation Sans'" font-style="normal" letter-spacing="0">SINK</text><text x="188.1" y="386.6" font-size="2.4" fill="#1e1e1e" text-anchor="middle" font-weight="bold" font-family="'Liberation Sans'" font-style="normal" letter-spacing="0">OVER</text><text x="212.4" y="386.6" font-size="2.4" fill="#1e1e1e" text-anchor="middle" font-weight="bold" font-family="'Liberation Sans'" font-style="normal" letter-spacing="0">NG TERMINAL</text><text x="253.3" y="382.3" font-size="3.2" fill="#222" text-anchor="middle" font-weight="bold" font-family="'Liberation Sans'" font-style="normal" letter-spacing="0">KETERANGAN</text><line x1="0.0" y1="400.4" x2="277.7" y2="400.4" stroke="#484848" stroke-width="0.85"/><line x1="0.0" y1="410.6" x2="277.7" y2="410.6" stroke="#484848" stroke-width="0.85"/><line x1="0.0" y1="420.8" x2="277.7" y2="420.8" stroke="#484848" stroke-width="0.85"/><line x1="0.0" y1="431.0" x2="277.7" y2="431.0" stroke="#484848" stroke-width="0.85"/><line x1="0.0" y1="441.2" x2="277.7" y2="441.2" stroke="#484848" stroke-width="0.85"/><line x1="0.0" y1="451.4" x2="277.7" y2="451.4" stroke="#484848" stroke-width="0.85"/><line x1="0.0" y1="461.6" x2="277.7" y2="461.6" stroke="#484848" stroke-width="0.85"/><line x1="0.0" y1="471.8" x2="277.7" y2="471.8" stroke="#484848" stroke-width="0.85"/><line x1="0.0" y1="482.0" x2="277.7" y2="482.0" stroke="#484848" stroke-width="0.85"/><line x1="0.0" y1="492.2" x2="277.7" y2="492.2" stroke="#484848" stroke-width="0.85"/><line x1="0.0" y1="502.4" x2="277.7" y2="502.4" stroke="#484848" stroke-width="0.85"/><line x1="0.0" y1="512.6" x2="277.7" y2="512.6" stroke="#484848" stroke-width="0.85"/><line x1="56.6" y1="522.8" x2="277.7" y2="522.8" stroke="#484848" stroke-width="0.85"/><line x1="41.3" y1="390.2" x2="41.3" y2="512.6" stroke="#484848" stroke-width="0.85"/><line x1="56.6" y1="390.2" x2="56.6" y2="512.6" stroke="#484848" stroke-width="0.85"/><line x1="69.8" y1="390.2" x2="69.8" y2="522.8" stroke="#484848" stroke-width="0.85"/><line x1="97.9" y1="390.2" x2="97.9" y2="522.8" stroke="#484848" stroke-width="0.85"/><line x1="111.0" y1="390.2" x2="111.0" y2="512.6" stroke="#484848" stroke-width="0.85"/><line x1="126.9" y1="390.2" x2="126.9" y2="512.6" stroke="#484848" stroke-width="0.85"/><line x1="143.2" y1="390.2" x2="143.2" y2="512.6" stroke="#484848" stroke-width="0.85"/><line x1="164.1" y1="390.2" x2="164.1" y2="512.6" stroke="#484848" stroke-width="0.85"/><line x1="180.4" y1="390.2" x2="180.4" y2="512.6" stroke="#484848" stroke-width="0.85"/><line x1="195.8" y1="390.2" x2="195.8" y2="512.6" stroke="#484848" stroke-width="0.85"/><line x1="229.0" y1="390.2" x2="229.0" y2="512.6" stroke="#484848" stroke-width="0.85"/><line x1="277.7" y1="390.2" x2="277.7" y2="522.8" stroke="#484848" stroke-width="0.85"/><text x="49.0" y="396.4" font-size="3.0" fill="#111" text-anchor="middle" font-weight="bold" font-family="'Liberation Sans'" font-style="normal" letter-spacing="0">18:00</text><text x="63.2" y="396.4" font-size="3.0" fill="#111" text-anchor="middle" font-weight="bold" font-family="'Liberation Sans'" font-style="normal" letter-spacing="0">19:00</text><text x="77.3" y="398.0" font-size="8" letter-spacing="-0.7" fill="#2a2a2a" stroke="#2a2a2a" stroke-width="0.12" font-family="Liberation Serif" font-style="italic">4nb</text><text x="49.0" y="406.6" font-size="3.0" fill="#111" text-anchor="middle" font-weight="bold" font-family="'Liberation Sans'" font-style="normal" letter-spacing="0">19:00</text><text x="63.2" y="406.6" font-size="3.0" fill="#111" text-anchor="middle" font-weight="bold" font-family="'Liberation Sans'" font-style="normal" letter-spacing="0">20:00</text><text x="77.3" y="408.2" font-size="8" letter-spacing="-0.7" fill="#2a2a2a" stroke="#2a2a2a" stroke-width="0.12" font-family="Liberation Serif" font-style="italic">4nb</text><text x="49.0" y="416.8" font-size="3.0" fill="#111" text-anchor="middle" font-weight="bold" font-family="'Liberation Sans'" font-style="normal" letter-spacing="0">20:00</text><text x="63.2" y="416.8" font-size="3.0" fill="#111" text-anchor="middle" font-weight="bold" font-family="'Liberation Sans'" font-style="normal" letter-spacing="0">21:00</text><text x="77.3" y="418.4" font-size="8" letter-spacing="-0.7" fill="#2a2a2a" stroke="#2a2a2a" stroke-width="0.12" font-family="Liberation Serif" font-style="italic">4pq</text><text x="49.0" y="427.0" font-size="3.0" fill="#111" text-anchor="middle" font-weight="bold" font-family="'Liberation Sans'" font-style="normal" letter-spacing="0">21:00</text><text x="63.2" y="427.0" font-size="3.0" fill="#111" text-anchor="middle" font-weight="bold" font-family="'Liberation Sans'" font-style="normal" letter-spacing="0">22:00</text><text x="77.3" y="428.6" font-size="8" letter-spacing="-0.7" fill="#2a2a2a" stroke="#2a2a2a" stroke-width="0.12" font-family="Liberation Serif" font-style="italic">4nb</text><text x="49.0" y="437.2" font-size="3.0" fill="#111" text-anchor="middle" font-weight="bold" font-family="'Liberation Sans'" font-style="normal" letter-spacing="0">22:00</text><text x="63.2" y="437.2" font-size="3.0" fill="#111" text-anchor="middle" font-weight="bold" font-family="'Liberation Sans'" font-style="normal" letter-spacing="0">23:00</text><text x="77.3" y="438.8" font-size="8" letter-spacing="-0.7" fill="#2a2a2a" stroke="#2a2a2a" stroke-width="0.12" font-family="Liberation Serif" font-style="italic">4pq</text><text x="49.0" y="447.4" font-size="3.0" fill="#111" text-anchor="middle" font-weight="bold" font-family="'Liberation Sans'" font-style="normal" letter-spacing="0">23:00</text><text x="63.2" y="447.4" font-size="3.0" fill="#111" text-anchor="middle" font-weight="bold" font-family="'Liberation Sans'" font-style="normal" letter-spacing="0">0:00</text><text x="77.3" y="449.0" font-size="8" letter-spacing="-0.7" fill="#2a2a2a" stroke="#2a2a2a" stroke-width="0.12" font-family="Liberation Serif" font-style="italic">2/6</text><text x="49.0" y="457.6" font-size="3.0" fill="#111" text-anchor="middle" font-weight="bold" font-family="'Liberation Sans'" font-style="normal" letter-spacing="0">0:00</text><text x="63.2" y="457.6" font-size="3.0" fill="#111" text-anchor="middle" font-weight="bold" font-family="'Liberation Sans'" font-style="normal" letter-spacing="0">1:00</text><text x="77.3" y="459.2" font-size="8" letter-spacing="-0.7" fill="#2a2a2a" stroke="#2a2a2a" stroke-width="0.12" font-family="Liberation Serif" font-style="italic">2/6</text><text x="49.0" y="467.8" font-size="3.0" fill="#111" text-anchor="middle" font-weight="bold" font-family="'Liberation Sans'" font-style="normal" letter-spacing="0">1:00</text><text x="63.2" y="467.8" font-size="3.0" fill="#111" text-anchor="middle" font-weight="bold" font-family="'Liberation Sans'" font-style="normal" letter-spacing="0">2:00</text><text x="77.3" y="469.4" font-size="8" letter-spacing="-0.7" fill="#2a2a2a" stroke="#2a2a2a" stroke-width="0.12" font-family="Liberation Serif" font-style="italic">4pq</text><text x="49.0" y="478.0" font-size="3.0" fill="#111" text-anchor="middle" font-weight="bold" font-family="'Liberation Sans'" font-style="normal" letter-spacing="0">2:00</text><text x="63.2" y="478.0" font-size="3.0" fill="#111" text-anchor="middle" font-weight="bold" font-family="'Liberation Sans'" font-style="normal" letter-spacing="0">3:00</text><text x="77.3" y="479.6" font-size="8" letter-spacing="-0.7" fill="#2a2a2a" stroke="#2a2a2a" stroke-width="0.12" font-family="Liberation Serif" font-style="italic">4pq</text><text x="49.0" y="488.2" font-size="3.0" fill="#111" text-anchor="middle" font-weight="bold" font-family="'Liberation Sans'" font-style="normal" letter-spacing="0">3:00</text><text x="63.2" y="488.2" font-size="3.0" fill="#111" text-anchor="middle" font-weight="bold" font-family="'Liberation Sans'" font-style="normal" letter-spacing="0">4:00</text><text x="77.3" y="489.8" font-size="8" letter-spacing="-0.7" fill="#2a2a2a" stroke="#2a2a2a" stroke-width="0.12" font-family="Liberation Serif" font-style="italic">2/6</text><text x="49.0" y="498.4" font-size="3.0" fill="#111" text-anchor="middle" font-weight="bold" font-family="'Liberation Sans'" font-style="normal" letter-spacing="0">4:00</text><text x="63.2" y="498.4" font-size="3.0" fill="#111" text-anchor="middle" font-weight="bold" font-family="'Liberation Sans'" font-style="normal" letter-spacing="0">5:00</text><text x="77.3" y="500.0" font-size="8" letter-spacing="-0.7" fill="#2a2a2a" stroke="#2a2a2a" stroke-width="0.12" font-family="Liberation Serif" font-style="italic">4nb</text><text x="49.0" y="508.6" font-size="3.0" fill="#111" text-anchor="middle" font-weight="bold" font-family="'Liberation Sans'" font-style="normal" letter-spacing="0">5:00</text><text x="63.2" y="508.6" font-size="3.0" fill="#111" text-anchor="middle" font-weight="bold" font-family="'Liberation Sans'" font-style="normal" letter-spacing="0">6:00</text><text x="77.3" y="510.2" font-size="8" letter-spacing="-0.7" fill="#2a2a2a" stroke="#2a2a2a" stroke-width="0.12" font-family="Liberation Serif" font-style="italic">4/6</text><text x="55.5" y="518.8" font-size="2.8" fill="#222" text-anchor="middle" font-weight="bold" font-family="'Liberation Sans'" font-style="normal" letter-spacing="0">TOTAL</text><text x="74.8" y="520.8" font-size="6.5" fill="#262626" stroke="#262626" stroke-width="0.12" text-anchor="start" font-family="Liberation Serif" font-style="italic">4.900</text><text x="0.0" y="397.5" font-size="6" fill="#262626" stroke="#262626" stroke-width="0.12" text-anchor="start" font-family="Liberation Serif" font-style="italic">23023 - 01</text><text x="231.0" y="397.3" font-size="5.4" fill="#262626" stroke="#262626" stroke-width="0.12" text-anchor="start" font-family="Liberation Serif" font-style="italic">+ 8 pcs Sampel</text><text x="231.0" y="448.3" font-size="5.4" fill="#262626" stroke="#262626" stroke-width="0.12" text-anchor="start" font-family="Liberation Serif" font-style="italic">- Istirahat</text><text x="231.0" y="458.5" font-size="5.4" fill="#262626" stroke="#262626" stroke-width="0.12" text-anchor="start" font-family="Liberation Serif" font-style="italic">   2 jam</text><text x="231.0" y="489.1" font-size="5.4" fill="#262626" stroke="#262626" stroke-width="0.12" text-anchor="start" font-family="Liberation Serif" font-style="italic">- Istirahat  mr med</text><text x="99.9" y="448.8" font-size="7" fill="#262626" stroke="#262626" stroke-width="0.12" text-anchor="start" font-family="Liberation Serif" font-style="italic">4/p</text><text x="99.9" y="489.6" font-size="7" fill="#262626" stroke="#262626" stroke-width="0.12" text-anchor="start" font-family="Liberation Serif" font-style="italic">4/p</text><rect x="278.7" y="382.0" width="65.0" height="77.6" fill="none" stroke="#2e2e2e" stroke-width="0.8"/><text x="281.7" y="388.0" font-size="2.4" fill="#444" text-anchor="start" font-weight="bold" font-family="'Liberation Sans'" font-style="normal" letter-spacing="0">CHECK SHEET 5S / RUANG</text><text x="281.7" y="391.0" font-size="2.2" fill="#555" text-anchor="start" font-weight="bold" font-family="'Liberation Sans'" font-style="normal" letter-spacing="0">SEBELUM PRODUKSI DIMULAI (LAKUKAN</text><text x="281.7" y="394.0" font-size="2.2" fill="#555" text-anchor="start" font-weight="bold" font-family="'Liberation Sans'" font-style="normal" letter-spacing="0">MOTOR )</text><line x1="286.7" y1="441.6" x2="335.7" y2="441.6" stroke="#777" stroke-width="0.5"/><text x="311.2" y="440.6" font-size="2.4" fill="#666" text-anchor="middle" font-weight="bold" font-family="'Liberation Sans'" font-style="normal" letter-spacing="0">(..............................)</text><rect x="278.7" y="468.0" width="31.1" height="32.4" fill="none" stroke="#2e2e2e" stroke-width="0.8"/><line x1="278.7" y1="473.0" x2="309.8" y2="473.0" stroke="#484848" stroke-width="0.6"/><text x="294.2" y="471.6" font-size="2.0" fill="#444" text-anchor="middle" font-weight="bold" font-family="'Liberation Sans'" font-style="normal" letter-spacing="0">DIPERIKSA OLEH</text><rect x="311.2" y="468.0" width="34.8" height="32.4" fill="none" stroke="#2e2e2e" stroke-width="0.8"/><line x1="311.2" y1="473.0" x2="346.0" y2="473.0" stroke="#484848" stroke-width="0.6"/><text x="328.6" y="471.6" font-size="2.0" fill="#444" text-anchor="middle" font-weight="bold" font-family="'Liberation Sans'" font-style="normal" letter-spacing="0">DIPERIKSA OLEH</text><line x1="277.7" y1="499.8" x2="346.0" y2="499.8" stroke="#484848" stroke-width="0.8"/><line x1="292.7" y1="499.8" x2="292.7" y2="522.8" stroke="#484848" stroke-width="0.8"/><text x="285.2" y="511.3" font-size="2.4" fill="#1e1e1e" text-anchor="middle" font-weight="bold" font-family="'Liberation Sans'" font-style="normal" letter-spacing="0">Di</text><text x="285.2" y="514.7" font-size="2.4" fill="#1e1e1e" text-anchor="middle" font-weight="bold" font-family="'Liberation Sans'" font-style="normal" letter-spacing="0">Periksa</text><text x="295.7" y="517.8" font-size="6.5" fill="#262626" stroke="#262626" stroke-width="0.12" text-anchor="start" font-family="Liberation Serif" font-style="italic">Hassan1750</text><line x1="0.0" y1="522.8" x2="346.0" y2="522.8" stroke="#484848" stroke-width="1.0"/><line x1="346.0" y1="314.0" x2="346.0" y2="522.8" stroke="#484848" stroke-width="1.0"/><line x1="277.7" y1="352.7" x2="277.7" y2="522.8" stroke="#484848" stroke-width="0.95"/><line x1="346.0" y1="522.8" x2="346.0" y2="562.5" stroke="#484848" stroke-width="1.0"/><line x1="0.0" y1="562.5" x2="346.0" y2="562.5" stroke="#484848" stroke-width="1.0"/><text x="25.0" y="534.8" font-size="2.8" fill="#3a3a3a" text-anchor="start" font-weight="bold" font-family="'Liberation Sans'" font-style="normal" letter-spacing="0">N  =  Producing product</text><text x="99.5" y="534.8" font-size="2.8" fill="#3a3a3a" text-anchor="start" font-weight="bold" font-family="'Liberation Sans'" font-style="normal" letter-spacing="0">PS  =  Preventive Samples</text><text x="153.4" y="534.8" font-size="2.8" fill="#3a3a3a" text-anchor="start" font-weight="bold" font-family="'Liberation Sans'" font-style="normal" letter-spacing="0">PM  =  Preventive Mould</text><text x="213.3" y="534.8" font-size="2.8" fill="#3a3a3a" text-anchor="start" font-weight="bold" font-family="'Liberation Sans'" font-style="normal" letter-spacing="0">MT  =  Waiting Terminal</text><text x="262.5" y="534.8" font-size="2.8" fill="#3a3a3a" text-anchor="start" font-weight="bold" font-family="'Liberation Sans'" font-style="normal" letter-spacing="0">WOO  =  Tunggu Keputusan QC</text><text x="25.0" y="545.9" font-size="2.8" fill="#3a3a3a" text-anchor="start" font-weight="bold" font-family="'Liberation Sans'" font-style="normal" letter-spacing="0">P  =  Purging</text><text x="99.5" y="545.9" font-size="2.8" fill="#3a3a3a" text-anchor="start" font-weight="bold" font-family="'Liberation Sans'" font-style="normal" letter-spacing="0">RS  =  Repair Samples</text><text x="153.4" y="545.9" font-size="2.8" fill="#3a3a3a" text-anchor="start" font-weight="bold" font-family="'Liberation Sans'" font-style="normal" letter-spacing="0">RM  =  Repair Mould</text><text x="213.3" y="545.9" font-size="2.8" fill="#3a3a3a" text-anchor="start" font-weight="bold" font-family="'Liberation Sans'" font-style="normal" letter-spacing="0">QC  =  Audit Cavities</text><text x="262.5" y="545.9" font-size="2.8" fill="#3a3a3a" text-anchor="start" font-weight="bold" font-family="'Liberation Sans'" font-style="normal" letter-spacing="0">L = Lain - lain ( Istirahat, Ganti Material, Dll )</text><text x="25.0" y="557.0" font-size="2.8" fill="#3a3a3a" text-anchor="start" font-weight="bold" font-family="'Liberation Sans'" font-style="normal" letter-spacing="0">N  =  Power Up ( Tunggu Panas )</text><text x="99.5" y="557.0" font-size="2.8" fill="#3a3a3a" text-anchor="start" font-weight="bold" font-family="'Liberation Sans'" font-style="normal" letter-spacing="0">R  =  Random</text><text x="153.4" y="557.0" font-size="2.8" fill="#3a3a3a" text-anchor="start" font-weight="bold" font-family="'Liberation Sans'" font-style="normal" letter-spacing="0">WM  =  Waiting Mould</text><text x="213.3" y="557.0" font-size="2.8" fill="#3a3a3a" text-anchor="start" font-weight="bold" font-family="'Liberation Sans'" font-style="normal" letter-spacing="0">NP  =  Not Planning</text><text x="0.0" y="545.5" font-size="2.8" fill="#1e1e1e" text-anchor="start" font-weight="bold" font-family="'Liberation Sans'" font-style="normal" letter-spacing="0">DOK MESIN</text><circle cx="1.5" cy="262" r="4.2" fill="#fff" stroke="#999" stroke-width="0.7"/><circle cx="340" cy="270" r="4.2" fill="#fff" stroke="#999" stroke-width="0.7"/><circle cx="343" cy="413" r="4.2" fill="#fff" stroke="#999" stroke-width="0.7"/></svg>
<svg style="position:absolute;left:0;top:0" width="1502" height="579" viewBox="0 0 1502 579" font-family="'Liberation Sans', sans-serif"><rect x="572.50" y="120.04" width="55.50" height="17.36" fill="#4682b4"/><rect x="628.00" y="98.33" width="55.50" height="39.07" fill="#4682b4"/><line x1="628.00" y1="120.04" x2="628.00" y2="137.40" stroke="#6f9cc6" stroke-width="0.6"/><rect x="683.50" y="107.01" width="55.50" height="30.39" fill="#4682b4"/><line x1="683.50" y1="107.01" x2="683.50" y2="137.40" stroke="#6f9cc6" stroke-width="0.6"/><rect x="850.00" y="117.14" width="55.50" height="20.26" fill="#4682b4"/><rect x="905.50" y="91.10" width="55.50" height="46.30" fill="#4682b4"/><line x1="905.50" y1="117.14" x2="905.50" y2="137.40" stroke="#6f9cc6" stroke-width="0.6"/><rect x="961.00" y="95.44" width="55.50" height="41.96" fill="#4682b4"/><line x1="961.00" y1="95.44" x2="961.00" y2="137.40" stroke="#6f9cc6" stroke-width="0.6"/><rect x="1016.50" y="130.16" width="55.50" height="7.24" fill="#4682b4"/><line x1="1016.50" y1="130.16" x2="1016.50" y2="137.40" stroke="#6f9cc6" stroke-width="0.6"/><line x1="572.5" y1="137.9" x2="1294.0" y2="137.9" stroke="#c3d0e0" stroke-width="1"/><text x="628.0" y="147.1" font-size="7" fill="#666" text-anchor="middle">06:00</text><text x="683.5" y="147.1" font-size="7" fill="#666" text-anchor="middle">07:00</text><text x="739.0" y="147.1" font-size="7" fill="#666" text-anchor="middle">08:00</text><text x="794.5" y="147.1" font-size="7" fill="#666" text-anchor="middle">09:00</text><text x="850.0" y="147.1" font-size="7" fill="#666" text-anchor="middle">10:00</text><text x="905.5" y="147.1" font-size="7" fill="#666" text-anchor="middle">11:00</text><text x="961.0" y="147.1" font-size="7" fill="#666" text-anchor="middle">12:00</text><text x="1016.5" y="147.1" font-size="7" fill="#666" text-anchor="middle">13:00</text><text x="1072.0" y="147.1" font-size="7" fill="#666" text-anchor="middle">14:00</text><text x="1127.5" y="147.1" font-size="7" fill="#666" text-anchor="middle">15:00</text><text x="1183.0" y="147.1" font-size="7" fill="#666" text-anchor="middle">16:00</text><text x="1238.5" y="147.1" font-size="7" fill="#666" text-anchor="middle">17:00</text><text x="1294.0" y="147.1" font-size="7" fill="#666" text-anchor="middle">18:00</text><text x="568.3" y="140.00" font-size="7.2" fill="#555" text-anchor="end">0</text><line x1="569" y1="137.4" x2="572" y2="137.4" stroke="#bbb" stroke-width="0.6"/><text x="568.3" y="132.76" font-size="7.2" fill="#555" text-anchor="end">5</text><line x1="569" y1="130.2" x2="572" y2="130.2" stroke="#bbb" stroke-width="0.6"/><text x="568.3" y="125.53" font-size="7.2" fill="#555" text-anchor="end">10</text><line x1="569" y1="122.9" x2="572" y2="122.9" stroke="#bbb" stroke-width="0.6"/><text x="568.3" y="118.30" font-size="7.2" fill="#555" text-anchor="end">15</text><line x1="569" y1="115.7" x2="572" y2="115.7" stroke="#bbb" stroke-width="0.6"/><text x="568.3" y="111.06" font-size="7.2" fill="#555" text-anchor="end">20</text><line x1="569" y1="108.5" x2="572" y2="108.5" stroke="#bbb" stroke-width="0.6"/><text x="568.3" y="103.82" font-size="7.2" fill="#555" text-anchor="end">25</text><line x1="569" y1="101.2" x2="572" y2="101.2" stroke="#bbb" stroke-width="0.6"/><text x="568.3" y="96.59" font-size="7.2" fill="#555" text-anchor="end">30</text><line x1="569" y1="94.0" x2="572" y2="94.0" stroke="#bbb" stroke-width="0.6"/><text x="568.3" y="89.35" font-size="7.2" fill="#555" text-anchor="end">35</text><line x1="569" y1="86.8" x2="572" y2="86.8" stroke="#bbb" stroke-width="0.6"/><text x="933" y="82.6" font-size="9.5" fill="#666" text-anchor="middle" letter-spacing="0.15">Total: 140 units</text><circle cx="1347.5" cy="105.60" r="28.65" fill="none" stroke="#dadada" stroke-width="6.7"/><path d="M1347.50 78.05 A27.55 27.55 0 0 1 1368.17 123.82" fill="none" stroke="#faad14" stroke-width="9"/><text x="1348.1" y="105.9" font-size="10" font-weight="bold" fill="#f5bd45" text-anchor="middle" letter-spacing="1.2">36.5%</text><text x="1347.5" y="115.8" font-size="7.8" font-weight="bold" fill="#f5c45a" text-anchor="middle">OEE</text><rect x="1310" y="72" width="80" height="3.6" fill="#fff"/><g opacity="0.28"><rect x="1409.2" y="80.70" width="60.5" height="10" fill="#d9d9d9"/><rect x="1409.2" y="80.70" width="37.15" height="10" fill="#faad14"/><text x="1405.8" y="88.60" font-size="8.2" fill="#333" text-anchor="end">LOA</text><text x="1498.5" y="88.90" font-size="9" fill="#444" text-anchor="end">61.4%</text></g><g><rect x="1409.2" y="94.00" width="60.5" height="10" fill="#d9d9d9"/><rect x="1409.2" y="94.00" width="32.49" height="10" fill="#faad14"/><text x="1405.8" y="101.90" font-size="8.2" fill="#333" text-anchor="end">AVA</text><text x="1498.5" y="102.20" font-size="9" fill="#444" text-anchor="end">53.7%</text></g><g><rect x="1409.2" y="107.30" width="60.5" height="10" fill="#d9d9d9"/><rect x="1409.2" y="107.30" width="41.20" height="10" fill="#faad14"/><text x="1405.8" y="115.20" font-size="8.2" fill="#333" text-anchor="end">PER</text><text x="1498.5" y="115.50" font-size="9" fill="#444" text-anchor="end">68.1%</text></g><g><rect x="1409.2" y="120.60" width="60.5" height="10" fill="#d9d9d9"/><rect x="1409.2" y="120.60" width="60.50" height="10" fill="#3dbb61"/><text x="1405.8" y="128.50" font-size="8.2" fill="#333" text-anchor="end">QUA</text><text x="1498.5" y="128.80" font-size="9" fill="#444" text-anchor="end">100%</text></g><rect x="572.50" y="215.45" width="55.50" height="29.75" fill="#4682b4"/><rect x="628.00" y="202.36" width="55.50" height="42.84" fill="#4682b4"/><line x1="628.00" y1="215.45" x2="628.00" y2="245.20" stroke="#6f9cc6" stroke-width="0.6"/><rect x="683.50" y="202.36" width="55.50" height="42.84" fill="#4682b4"/><line x1="683.50" y1="202.36" x2="683.50" y2="245.20" stroke="#6f9cc6" stroke-width="0.6"/><rect x="739.00" y="224.97" width="55.50" height="20.23" fill="#4682b4"/><line x1="739.00" y1="224.97" x2="739.00" y2="245.20" stroke="#6f9cc6" stroke-width="0.6"/><rect x="794.50" y="199.98" width="55.50" height="45.22" fill="#4682b4"/><line x1="794.50" y1="224.97" x2="794.50" y2="245.20" stroke="#6f9cc6" stroke-width="0.6"/><rect x="850.00" y="200.57" width="55.50" height="44.62" fill="#4682b4"/><line x1="850.00" y1="200.57" x2="850.00" y2="245.20" stroke="#6f9cc6" stroke-width="0.6"/><rect x="905.50" y="198.79" width="55.50" height="46.41" fill="#4682b4"/><line x1="905.50" y1="200.57" x2="905.50" y2="245.20" stroke="#6f9cc6" stroke-width="0.6"/><rect x="961.00" y="212.47" width="55.50" height="32.73" fill="#4682b4"/><line x1="961.00" y1="212.47" x2="961.00" y2="245.20" stroke="#6f9cc6" stroke-width="0.6"/><line x1="572.5" y1="245.7" x2="1294.0" y2="245.7" stroke="#c3d0e0" stroke-width="1"/><text x="628.0" y="254.9" font-size="7" fill="#666" text-anchor="middle">06:00</text><text x="683.5" y="254.9" font-size="7" fill="#666" text-anchor="middle">07:00</text><text x="739.0" y="254.9" font-size="7" fill="#666" text-anchor="middle">08:00</text><text x="794.5" y="254.9" font-size="7" fill="#666" text-anchor="middle">09:00</text><text x="850.0" y="254.9" font-size="7" fill="#666" text-anchor="middle">10:00</text><text x="905.5" y="254.9" font-size="7" fill="#666" text-anchor="middle">11:00</text><text x="961.0" y="254.9" font-size="7" fill="#666" text-anchor="middle">12:00</text><text x="1016.5" y="254.9" font-size="7" fill="#666" text-anchor="middle">13:00</text><text x="1072.0" y="254.9" font-size="7" fill="#666" text-anchor="middle">14:00</text><text x="1127.5" y="254.9" font-size="7" fill="#666" text-anchor="middle">15:00</text><text x="1183.0" y="254.9" font-size="7" fill="#666" text-anchor="middle">16:00</text><text x="1238.5" y="254.9" font-size="7" fill="#666" text-anchor="middle">17:00</text><text x="1294.0" y="254.9" font-size="7" fill="#666" text-anchor="middle">18:00</text><text x="568.3" y="247.80" font-size="7.2" fill="#555" text-anchor="end">0</text><line x1="569" y1="245.2" x2="572" y2="245.2" stroke="#bbb" stroke-width="0.6"/><text x="568.3" y="241.85" font-size="7.2" fill="#555" text-anchor="end">5</text><line x1="569" y1="239.2" x2="572" y2="239.2" stroke="#bbb" stroke-width="0.6"/><text x="568.3" y="235.90" font-size="7.2" fill="#555" text-anchor="end">10</text><line x1="569" y1="233.3" x2="572" y2="233.3" stroke="#bbb" stroke-width="0.6"/><text x="568.3" y="229.95" font-size="7.2" fill="#555" text-anchor="end">15</text><line x1="569" y1="227.3" x2="572" y2="227.3" stroke="#bbb" stroke-width="0.6"/><text x="568.3" y="224.00" font-size="7.2" fill="#555" text-anchor="end">20</text><line x1="569" y1="221.4" x2="572" y2="221.4" stroke="#bbb" stroke-width="0.6"/><text x="568.3" y="218.05" font-size="7.2" fill="#555" text-anchor="end">25</text><line x1="569" y1="215.4" x2="572" y2="215.4" stroke="#bbb" stroke-width="0.6"/><text x="568.3" y="212.10" font-size="7.2" fill="#555" text-anchor="end">30</text><line x1="569" y1="209.5" x2="572" y2="209.5" stroke="#bbb" stroke-width="0.6"/><text x="568.3" y="206.15" font-size="7.2" fill="#555" text-anchor="end">35</text><line x1="569" y1="203.5" x2="572" y2="203.5" stroke="#bbb" stroke-width="0.6"/><text x="568.3" y="200.20" font-size="7.2" fill="#555" text-anchor="end">40</text><line x1="569" y1="197.6" x2="572" y2="197.6" stroke="#bbb" stroke-width="0.6"/><text x="933" y="190.4" font-size="9.5" fill="#666" text-anchor="middle" letter-spacing="0.15">Total: 257 units</text><circle cx="1347.5" cy="213.40" r="28.65" fill="none" stroke="#dadada" stroke-width="6.7"/><path d="M1347.50 185.85 A27.55 27.55 0 1 1 1341.32 240.25" fill="none" stroke="#faad14" stroke-width="9"/><text x="1348.1" y="213.7" font-size="10" font-weight="bold" fill="#f5bd45" text-anchor="middle" letter-spacing="1.2">53.6%</text><text x="1347.5" y="223.6" font-size="7.8" font-weight="bold" fill="#f5c45a" text-anchor="middle">OEE</text><g opacity="0.28"><rect x="1409.2" y="188.50" width="60.5" height="10" fill="#d9d9d9"/><rect x="1409.2" y="188.50" width="37.15" height="10" fill="#faad14"/><text x="1405.8" y="196.40" font-size="8.2" fill="#333" text-anchor="end">LOA</text><text x="1498.5" y="196.70" font-size="9" fill="#444" text-anchor="end">61.4%</text></g><g><rect x="1409.2" y="201.80" width="60.5" height="10" fill="#d9d9d9"/><rect x="1409.2" y="201.80" width="52.94" height="10" fill="#3dbb61"/><text x="1405.8" y="209.70" font-size="8.2" fill="#333" text-anchor="end">AVA</text><text x="1498.5" y="210.00" font-size="9" fill="#444" text-anchor="end">87.5%</text></g><g><rect x="1409.2" y="215.10" width="60.5" height="10" fill="#d9d9d9"/><rect x="1409.2" y="215.10" width="37.09" height="10" fill="#faad14"/><text x="1405.8" y="223.00" font-size="8.2" fill="#333" text-anchor="end">PER</text><text x="1498.5" y="223.30" font-size="9" fill="#444" text-anchor="end">61.3%</text></g><g><rect x="1409.2" y="228.40" width="60.5" height="10" fill="#d9d9d9"/><rect x="1409.2" y="228.40" width="60.50" height="10" fill="#3dbb61"/><text x="1405.8" y="236.30" font-size="8.2" fill="#333" text-anchor="end">QUA</text><text x="1498.5" y="236.60" font-size="9" fill="#444" text-anchor="end">100%</text></g><rect x="572.50" y="337.36" width="55.50" height="15.54" fill="#4682b4"/><rect x="628.00" y="312.21" width="55.50" height="40.69" fill="#4682b4"/><line x1="628.00" y1="337.36" x2="628.00" y2="352.90" stroke="#6f9cc6" stroke-width="0.6"/><rect x="683.50" y="315.38" width="55.50" height="37.52" fill="#4682b4"/><line x1="683.50" y1="315.38" x2="683.50" y2="352.90" stroke="#6f9cc6" stroke-width="0.6"/><rect x="739.00" y="335.08" width="55.50" height="17.82" fill="#4682b4"/><line x1="739.00" y1="335.08" x2="739.00" y2="352.90" stroke="#6f9cc6" stroke-width="0.6"/><rect x="794.50" y="318.45" width="55.50" height="34.45" fill="#4682b4"/><line x1="794.50" y1="335.08" x2="794.50" y2="352.90" stroke="#6f9cc6" stroke-width="0.6"/><rect x="850.00" y="307.06" width="55.50" height="45.84" fill="#4682b4"/><line x1="850.00" y1="318.45" x2="850.00" y2="352.90" stroke="#6f9cc6" stroke-width="0.6"/><rect x="905.50" y="318.94" width="55.50" height="33.96" fill="#4682b4"/><line x1="905.50" y1="318.94" x2="905.50" y2="352.90" stroke="#6f9cc6" stroke-width="0.6"/><rect x="961.00" y="316.37" width="55.50" height="36.53" fill="#4682b4"/><line x1="961.00" y1="318.94" x2="961.00" y2="352.90" stroke="#6f9cc6" stroke-width="0.6"/><rect x="1016.50" y="318.55" width="55.50" height="34.35" fill="#4682b4"/><line x1="1016.50" y1="318.55" x2="1016.50" y2="352.90" stroke="#6f9cc6" stroke-width="0.6"/><rect x="1072.00" y="337.06" width="55.50" height="15.84" fill="#4682b4"/><line x1="1072.00" y1="337.06" x2="1072.00" y2="352.90" stroke="#6f9cc6" stroke-width="0.6"/><rect x="1127.50" y="316.37" width="55.50" height="36.53" fill="#4682b4"/><line x1="1127.50" y1="337.06" x2="1127.50" y2="352.90" stroke="#6f9cc6" stroke-width="0.6"/><rect x="1183.00" y="320.43" width="55.50" height="32.47" fill="#4682b4"/><line x1="1183.00" y1="320.43" x2="1183.00" y2="352.90" stroke="#6f9cc6" stroke-width="0.6"/><rect x="1238.50" y="338.35" width="55.50" height="14.55" fill="#4682b4"/><line x1="1238.50" y1="338.35" x2="1238.50" y2="352.90" stroke="#6f9cc6" stroke-width="0.6"/><line x1="572.5" y1="353.4" x2="1294.0" y2="353.4" stroke="#c3d0e0" stroke-width="1"/><text x="628.0" y="362.6" font-size="7" fill="#666" text-anchor="middle">06:00</text><text x="683.5" y="362.6" font-size="7" fill="#666" text-anchor="middle">07:00</text><text x="739.0" y="362.6" font-size="7" fill="#666" text-anchor="middle">08:00</text><text x="794.5" y="362.6" font-size="7" fill="#666" text-anchor="middle">09:00</text><text x="850.0" y="362.6" font-size="7" fill="#666" text-anchor="middle">10:00</text><text x="905.5" y="362.6" font-size="7" fill="#666" text-anchor="middle">11:00</text><text x="961.0" y="362.6" font-size="7" fill="#666" text-anchor="middle">12:00</text><text x="1016.5" y="362.6" font-size="7" fill="#666" text-anchor="middle">13:00</text><text x="1072.0" y="362.6" font-size="7" fill="#666" text-anchor="middle">14:00</text><text x="1127.5" y="362.6" font-size="7" fill="#666" text-anchor="middle">15:00</text><text x="1183.0" y="362.6" font-size="7" fill="#666" text-anchor="middle">16:00</text><text x="1238.5" y="362.6" font-size="7" fill="#666" text-anchor="middle">17:00</text><text x="1294.0" y="362.6" font-size="7" fill="#666" text-anchor="middle">18:00</text><text x="568.3" y="355.50" font-size="7.2" fill="#555" text-anchor="end">0</text><line x1="569" y1="352.9" x2="572" y2="352.9" stroke="#bbb" stroke-width="0.6"/><text x="568.3" y="350.55" font-size="7.2" fill="#555" text-anchor="end">5</text><line x1="569" y1="347.9" x2="572" y2="347.9" stroke="#bbb" stroke-width="0.6"/><text x="568.3" y="345.60" font-size="7.2" fill="#555" text-anchor="end">10</text><line x1="569" y1="343.0" x2="572" y2="343.0" stroke="#bbb" stroke-width="0.6"/><text x="568.3" y="340.65" font-size="7.2" fill="#555" text-anchor="end">15</text><line x1="569" y1="338.0" x2="572" y2="338.0" stroke="#bbb" stroke-width="0.6"/><text x="568.3" y="335.70" font-size="7.2" fill="#555" text-anchor="end">20</text><line x1="569" y1="333.1" x2="572" y2="333.1" stroke="#bbb" stroke-width="0.6"/><text x="568.3" y="330.75" font-size="7.2" fill="#555" text-anchor="end">25</text><line x1="569" y1="328.1" x2="572" y2="328.1" stroke="#bbb" stroke-width="0.6"/><text x="568.3" y="325.80" font-size="7.2" fill="#555" text-anchor="end">30</text><line x1="569" y1="323.2" x2="572" y2="323.2" stroke="#bbb" stroke-width="0.6"/><text x="568.3" y="320.85" font-size="7.2" fill="#555" text-anchor="end">35</text><line x1="569" y1="318.2" x2="572" y2="318.2" stroke="#bbb" stroke-width="0.6"/><text x="568.3" y="315.90" font-size="7.2" fill="#555" text-anchor="end">40</text><line x1="569" y1="313.3" x2="572" y2="313.3" stroke="#bbb" stroke-width="0.6"/><text x="568.3" y="310.95" font-size="7.2" fill="#555" text-anchor="end">45</text><line x1="569" y1="308.3" x2="572" y2="308.3" stroke="#bbb" stroke-width="0.6"/><text x="568.3" y="306.00" font-size="7.2" fill="#555" text-anchor="end">50</text><line x1="569" y1="303.4" x2="572" y2="303.4" stroke="#bbb" stroke-width="0.6"/><text x="933" y="298.1" font-size="9.5" fill="#666" text-anchor="middle" letter-spacing="0.15">Total: 414 units</text><circle cx="1347.5" cy="321.10" r="28.65" fill="none" stroke="#dadada" stroke-width="6.7"/><path d="M1347.50 293.55 A27.55 27.55 0 1 1 1331.87 343.79" fill="none" stroke="#faad14" stroke-width="9"/><text x="1348.1" y="321.4" font-size="10" font-weight="bold" fill="#f5bd45" text-anchor="middle" letter-spacing="1.2">59.6%</text><text x="1347.5" y="331.3" font-size="7.8" font-weight="bold" fill="#f5c45a" text-anchor="middle">OEE</text><g opacity="0.28"><rect x="1409.2" y="296.20" width="60.5" height="10" fill="#d9d9d9"/><rect x="1409.2" y="296.20" width="53.84" height="10" fill="#3dbb61"/><text x="1405.8" y="304.10" font-size="8.2" fill="#333" text-anchor="end">LOA</text><text x="1498.5" y="304.40" font-size="9" fill="#444" text-anchor="end">89%</text></g><g><rect x="1409.2" y="309.50" width="60.5" height="10" fill="#d9d9d9"/><rect x="1409.2" y="309.50" width="57.17" height="10" fill="#3dbb61"/><text x="1405.8" y="317.40" font-size="8.2" fill="#333" text-anchor="end">AVA</text><text x="1498.5" y="317.70" font-size="9" fill="#444" text-anchor="end">94.5%</text></g><g><rect x="1409.2" y="322.80" width="60.5" height="10" fill="#d9d9d9"/><rect x="1409.2" y="322.80" width="38.18" height="10" fill="#faad14"/><text x="1405.8" y="330.70" font-size="8.2" fill="#333" text-anchor="end">PER</text><text x="1498.5" y="331.00" font-size="9" fill="#444" text-anchor="end">63.1%</text></g><g><rect x="1409.2" y="336.10" width="60.5" height="10" fill="#d9d9d9"/><rect x="1409.2" y="336.10" width="60.50" height="10" fill="#3dbb61"/><text x="1405.8" y="344.00" font-size="8.2" fill="#333" text-anchor="end">QUA</text><text x="1498.5" y="344.30" font-size="9" fill="#444" text-anchor="end">100%</text></g><rect x="572.50" y="430.61" width="55.50" height="31.39" fill="#4682b4"/><rect x="628.00" y="415.98" width="55.50" height="46.02" fill="#4682b4"/><line x1="628.00" y1="430.61" x2="628.00" y2="462.00" stroke="#6f9cc6" stroke-width="0.6"/><rect x="683.50" y="417.16" width="55.50" height="44.84" fill="#4682b4"/><line x1="683.50" y1="417.16" x2="683.50" y2="462.00" stroke="#6f9cc6" stroke-width="0.6"/><rect x="739.00" y="439.93" width="55.50" height="22.07" fill="#4682b4"/><line x1="739.00" y1="439.93" x2="739.00" y2="462.00" stroke="#6f9cc6" stroke-width="0.6"/><rect x="794.50" y="421.88" width="55.50" height="40.12" fill="#4682b4"/><line x1="794.50" y1="439.93" x2="794.50" y2="462.00" stroke="#6f9cc6" stroke-width="0.6"/><rect x="850.00" y="419.52" width="55.50" height="42.48" fill="#4682b4"/><line x1="850.00" y1="421.88" x2="850.00" y2="462.00" stroke="#6f9cc6" stroke-width="0.6"/><rect x="905.50" y="422.47" width="55.50" height="39.53" fill="#4682b4"/><line x1="905.50" y1="422.47" x2="905.50" y2="462.00" stroke="#6f9cc6" stroke-width="0.6"/><rect x="961.00" y="416.33" width="55.50" height="45.67" fill="#4682b4"/><line x1="961.00" y1="422.47" x2="961.00" y2="462.00" stroke="#6f9cc6" stroke-width="0.6"/><rect x="1016.50" y="450.20" width="55.50" height="11.80" fill="#4682b4"/><line x1="1016.50" y1="450.20" x2="1016.50" y2="462.00" stroke="#6f9cc6" stroke-width="0.6"/><line x1="572.5" y1="462.5" x2="1294.0" y2="462.5" stroke="#c3d0e0" stroke-width="1"/><text x="628.0" y="471.7" font-size="7" fill="#666" text-anchor="middle">06:00</text><text x="683.5" y="471.7" font-size="7" fill="#666" text-anchor="middle">07:00</text><text x="739.0" y="471.7" font-size="7" fill="#666" text-anchor="middle">08:00</text><text x="794.5" y="471.7" font-size="7" fill="#666" text-anchor="middle">09:00</text><text x="850.0" y="471.7" font-size="7" fill="#666" text-anchor="middle">10:00</text><text x="905.5" y="471.7" font-size="7" fill="#666" text-anchor="middle">11:00</text><text x="961.0" y="471.7" font-size="7" fill="#666" text-anchor="middle">12:00</text><text x="1016.5" y="471.7" font-size="7" fill="#666" text-anchor="middle">13:00</text><text x="1072.0" y="471.7" font-size="7" fill="#666" text-anchor="middle">14:00</text><text x="1127.5" y="471.7" font-size="7" fill="#666" text-anchor="middle">15:00</text><text x="1183.0" y="471.7" font-size="7" fill="#666" text-anchor="middle">16:00</text><text x="1238.5" y="471.7" font-size="7" fill="#666" text-anchor="middle">17:00</text><text x="1294.0" y="471.7" font-size="7" fill="#666" text-anchor="middle">18:00</text><text x="568.3" y="464.60" font-size="7.2" fill="#555" text-anchor="end">0</text><line x1="569" y1="462.0" x2="572" y2="462.0" stroke="#bbb" stroke-width="0.6"/><text x="568.3" y="458.70" font-size="7.2" fill="#555" text-anchor="end">5</text><line x1="569" y1="456.1" x2="572" y2="456.1" stroke="#bbb" stroke-width="0.6"/><text x="568.3" y="452.80" font-size="7.2" fill="#555" text-anchor="end">10</text><line x1="569" y1="450.2" x2="572" y2="450.2" stroke="#bbb" stroke-width="0.6"/><text x="568.3" y="446.90" font-size="7.2" fill="#555" text-anchor="end">15</text><line x1="569" y1="444.3" x2="572" y2="444.3" stroke="#bbb" stroke-width="0.6"/><text x="568.3" y="441.00" font-size="7.2" fill="#555" text-anchor="end">20</text><line x1="569" y1="438.4" x2="572" y2="438.4" stroke="#bbb" stroke-width="0.6"/><text x="568.3" y="435.10" font-size="7.2" fill="#555" text-anchor="end">25</text><line x1="569" y1="432.5" x2="572" y2="432.5" stroke="#bbb" stroke-width="0.6"/><text x="568.3" y="429.20" font-size="7.2" fill="#555" text-anchor="end">30</text><line x1="569" y1="426.6" x2="572" y2="426.6" stroke="#bbb" stroke-width="0.6"/><text x="568.3" y="423.30" font-size="7.2" fill="#555" text-anchor="end">35</text><line x1="569" y1="420.7" x2="572" y2="420.7" stroke="#bbb" stroke-width="0.6"/><text x="568.3" y="417.40" font-size="7.2" fill="#555" text-anchor="end">40</text><line x1="569" y1="414.8" x2="572" y2="414.8" stroke="#bbb" stroke-width="0.6"/><text x="933" y="407.2" font-size="9.5" fill="#666" text-anchor="middle" letter-spacing="0.15">Total: 277 units</text><circle cx="1347.5" cy="430.20" r="28.65" fill="none" stroke="#dadada" stroke-width="6.7"/><path d="M1347.50 402.65 A27.55 27.55 0 1 1 1334.53 454.51" fill="none" stroke="#faad14" stroke-width="9"/><text x="1348.1" y="430.5" font-size="10" font-weight="bold" fill="#f5bd45" text-anchor="middle" letter-spacing="1.2">57.8%</text><text x="1347.5" y="440.4" font-size="7.8" font-weight="bold" fill="#f5c45a" text-anchor="middle">OEE</text><g opacity="0.28"><rect x="1409.2" y="405.30" width="60.5" height="10" fill="#d9d9d9"/><rect x="1409.2" y="405.30" width="37.15" height="10" fill="#faad14"/><text x="1405.8" y="413.20" font-size="8.2" fill="#333" text-anchor="end">LOA</text><text x="1498.5" y="413.50" font-size="9" fill="#444" text-anchor="end">61.4%</text></g><g><rect x="1409.2" y="418.60" width="60.5" height="10" fill="#d9d9d9"/><rect x="1409.2" y="418.60" width="57.96" height="10" fill="#3dbb61"/><text x="1405.8" y="426.50" font-size="8.2" fill="#333" text-anchor="end">AVA</text><text x="1498.5" y="426.80" font-size="9" fill="#444" text-anchor="end">95.8%</text></g><g><rect x="1409.2" y="431.90" width="60.5" height="10" fill="#d9d9d9"/><rect x="1409.2" y="431.90" width="36.48" height="10" fill="#faad14"/><text x="1405.8" y="439.80" font-size="8.2" fill="#333" text-anchor="end">PER</text><text x="1498.5" y="440.10" font-size="9" fill="#444" text-anchor="end">60.3%</text></g><g><rect x="1409.2" y="445.20" width="60.5" height="10" fill="#d9d9d9"/><rect x="1409.2" y="445.20" width="60.50" height="10" fill="#3dbb61"/><text x="1405.8" y="453.10" font-size="8.2" fill="#333" text-anchor="end">QUA</text><text x="1498.5" y="453.40" font-size="9" fill="#444" text-anchor="end">100%</text></g><rect x="572.50" y="537.53" width="55.50" height="32.67" fill="#4682b4"/><rect x="628.00" y="526.64" width="55.50" height="43.56" fill="#4682b4"/><line x1="628.00" y1="537.53" x2="628.00" y2="570.20" stroke="#6f9cc6" stroke-width="0.6"/><rect x="683.50" y="530.27" width="55.50" height="39.93" fill="#4682b4"/><line x1="683.50" y1="530.27" x2="683.50" y2="570.20" stroke="#6f9cc6" stroke-width="0.6"/><rect x="739.00" y="548.42" width="55.50" height="21.78" fill="#4682b4"/><line x1="739.00" y1="548.42" x2="739.00" y2="570.20" stroke="#6f9cc6" stroke-width="0.6"/><rect x="794.50" y="536.32" width="55.50" height="33.88" fill="#4682b4"/><line x1="794.50" y1="548.42" x2="794.50" y2="570.20" stroke="#6f9cc6" stroke-width="0.6"/><rect x="850.00" y="542.85" width="55.50" height="27.35" fill="#4682b4"/><line x1="850.00" y1="542.85" x2="850.00" y2="570.20" stroke="#6f9cc6" stroke-width="0.6"/><rect x="905.50" y="535.35" width="55.50" height="34.85" fill="#4682b4"/><line x1="905.50" y1="542.85" x2="905.50" y2="570.20" stroke="#6f9cc6" stroke-width="0.6"/><rect x="961.00" y="524.22" width="55.50" height="45.98" fill="#4682b4"/><line x1="961.00" y1="535.35" x2="961.00" y2="570.20" stroke="#6f9cc6" stroke-width="0.6"/><rect x="1016.50" y="558.83" width="55.50" height="11.37" fill="#4682b4"/><line x1="1016.50" y1="558.83" x2="1016.50" y2="570.20" stroke="#6f9cc6" stroke-width="0.6"/><rect x="1072.00" y="554.95" width="55.50" height="15.25" fill="#4682b4"/><line x1="1072.00" y1="558.83" x2="1072.00" y2="570.20" stroke="#6f9cc6" stroke-width="0.6"/><rect x="1127.50" y="568.99" width="55.50" height="1.21" fill="#4682b4"/><line x1="1127.50" y1="568.99" x2="1127.50" y2="570.20" stroke="#6f9cc6" stroke-width="0.6"/><line x1="572.5" y1="570.7" x2="1294.0" y2="570.7" stroke="#c3d0e0" stroke-width="1"/><text x="628.0" y="579.9" font-size="7" fill="#666" text-anchor="middle">06:00</text><text x="683.5" y="579.9" font-size="7" fill="#666" text-anchor="middle">07:00</text><text x="739.0" y="579.9" font-size="7" fill="#666" text-anchor="middle">08:00</text><text x="794.5" y="579.9" font-size="7" fill="#666" text-anchor="middle">09:00</text><text x="850.0" y="579.9" font-size="7" fill="#666" text-anchor="middle">10:00</text><text x="905.5" y="579.9" font-size="7" fill="#666" text-anchor="middle">11:00</text><text x="961.0" y="579.9" font-size="7" fill="#666" text-anchor="middle">12:00</text><text x="1016.5" y="579.9" font-size="7" fill="#666" text-anchor="middle">13:00</text><text x="1072.0" y="579.9" font-size="7" fill="#666" text-anchor="middle">14:00</text><text x="1127.5" y="579.9" font-size="7" fill="#666" text-anchor="middle">15:00</text><text x="1183.0" y="579.9" font-size="7" fill="#666" text-anchor="middle">16:00</text><text x="1238.5" y="579.9" font-size="7" fill="#666" text-anchor="middle">17:00</text><text x="1294.0" y="579.9" font-size="7" fill="#666" text-anchor="middle">18:00</text><text x="568.3" y="572.80" font-size="7.2" fill="#555" text-anchor="end">0</text><line x1="569" y1="570.2" x2="572" y2="570.2" stroke="#bbb" stroke-width="0.6"/><text x="568.3" y="566.75" font-size="7.2" fill="#555" text-anchor="end">5</text><line x1="569" y1="564.2" x2="572" y2="564.2" stroke="#bbb" stroke-width="0.6"/><text x="568.3" y="560.70" font-size="7.2" fill="#555" text-anchor="end">10</text><line x1="569" y1="558.1" x2="572" y2="558.1" stroke="#bbb" stroke-width="0.6"/><text x="568.3" y="554.65" font-size="7.2" fill="#555" text-anchor="end">15</text><line x1="569" y1="552.1" x2="572" y2="552.1" stroke="#bbb" stroke-width="0.6"/><text x="568.3" y="548.60" font-size="7.2" fill="#555" text-anchor="end">20</text><line x1="569" y1="546.0" x2="572" y2="546.0" stroke="#bbb" stroke-width="0.6"/><text x="568.3" y="542.55" font-size="7.2" fill="#555" text-anchor="end">25</text><line x1="569" y1="540.0" x2="572" y2="540.0" stroke="#bbb" stroke-width="0.6"/><text x="568.3" y="536.50" font-size="7.2" fill="#555" text-anchor="end">30</text><line x1="569" y1="533.9" x2="572" y2="533.9" stroke="#bbb" stroke-width="0.6"/><text x="568.3" y="530.45" font-size="7.2" fill="#555" text-anchor="end">35</text><line x1="569" y1="527.9" x2="572" y2="527.9" stroke="#bbb" stroke-width="0.6"/><text x="568.3" y="524.40" font-size="7.2" fill="#555" text-anchor="end">40</text><line x1="569" y1="521.8" x2="572" y2="521.8" stroke="#bbb" stroke-width="0.6"/><text x="933" y="515.4" font-size="9.5" fill="#666" text-anchor="middle" letter-spacing="0.15">Total: 256 units</text><circle cx="1347.5" cy="538.40" r="28.65" fill="none" stroke="#dadada" stroke-width="6.7"/><path d="M1347.50 510.85 A27.55 27.55 0 1 1 1345.94 565.91" fill="none" stroke="#faad14" stroke-width="9"/><text x="1348.1" y="538.7" font-size="10" font-weight="bold" fill="#f5bd45" text-anchor="middle" letter-spacing="1.2">50.9%</text><text x="1347.5" y="548.6" font-size="7.8" font-weight="bold" fill="#f5c45a" text-anchor="middle">OEE</text><g opacity="0.28"><rect x="1409.2" y="513.50" width="60.5" height="10" fill="#d9d9d9"/><rect x="1409.2" y="513.50" width="39.02" height="10" fill="#faad14"/><text x="1405.8" y="521.40" font-size="8.2" fill="#333" text-anchor="end">LOA</text><text x="1498.5" y="521.70" font-size="9" fill="#444" text-anchor="end">64.5%</text></g><g><rect x="1409.2" y="526.80" width="60.5" height="10" fill="#d9d9d9"/><rect x="1409.2" y="526.80" width="51.73" height="10" fill="#3dbb61"/><text x="1405.8" y="534.70" font-size="8.2" fill="#333" text-anchor="end">AVA</text><text x="1498.5" y="535.00" font-size="9" fill="#444" text-anchor="end">85.5%</text></g><g><rect x="1409.2" y="540.10" width="60.5" height="10" fill="#d9d9d9"/><rect x="1409.2" y="540.10" width="36.00" height="10" fill="#faad14"/><text x="1405.8" y="548.00" font-size="8.2" fill="#333" text-anchor="end">PER</text><text x="1498.5" y="548.30" font-size="9" fill="#444" text-anchor="end">59.5%</text></g><g><rect x="1409.2" y="553.40" width="60.5" height="10" fill="#d9d9d9"/><rect x="1409.2" y="553.40" width="60.50" height="10" fill="#3dbb61"/><text x="1405.8" y="561.30" font-size="8.2" fill="#333" text-anchor="end">QUA</text><text x="1498.5" y="561.60" font-size="9" fill="#444" text-anchor="end">100%</text></g><polyline points="589.1,108.0 656.5,81.2 723.6,91.8 788.9,128.0" fill="none" stroke="#a0161b" stroke-width="1.85" stroke-linejoin="miter"/><polyline points="863.6,118.6 927.1,85.6 992.6,91.2 1057.5,133.0" fill="none" stroke="#a0161b" stroke-width="1.85" stroke-linejoin="miter"/><polyline points="570.8,339.7 641.1,309.5 705.6,313.3 774.4,337.4 834.5,316.9 900.9,304.8 970.0,318.2 1096.7,317.8 1164.2,339.4 1229.5,315.2 1294.7,338.0" fill="none" stroke="#a0161b" stroke-width="1.85" stroke-linejoin="miter"/><text x="655" y="117.7" font-size="18" font-weight="bold" fill="#fff" text-anchor="middle">27</text><text x="705" y="131.4" font-size="18" font-weight="bold" fill="#fff" text-anchor="middle">21</text><text x="874.7" y="131.4" font-size="18" font-weight="bold" fill="#fff" text-anchor="middle">14</text><text x="929" y="117.4" font-size="18" font-weight="bold" fill="#fff" text-anchor="middle">32</text><text x="1043" y="117.4" font-size="18" font-weight="bold" fill="#555" text-anchor="middle">5</text><text x="655" y="340.8" font-size="18" font-weight="bold" fill="#fff" text-anchor="middle">42</text><text x="705.6" y="340.8" font-size="18" font-weight="bold" fill="#fff" text-anchor="middle">39</text><text x="758.3" y="353.1" font-size="18" font-weight="bold" fill="#fff" text-anchor="middle">19</text><text x="873.8" y="340.9" font-size="18" font-weight="bold" fill="#fff" text-anchor="middle">47</text><text x="929.3" y="340.9" font-size="18" font-weight="bold" fill="#fff" text-anchor="middle">35</text><polygon points="376.5,285.7 402.2,285.7 402.2,267.8 425.2,305.1 402.2,342.1 402.2,323.8 376.5,323.8" fill="#e06666"/><line x1="425" y1="64.5" x2="1502" y2="64.5" stroke="#eeeeee" stroke-width="1"/></svg>
<div class="sel dis" style="top:76.4px"><span>Station 1 (Press Ma...</span><svg width="9" height="6" viewBox="0 0 9 6" style="position:absolute;right:3.5px;top:4.5px"><path d="M0.8 0.8 L4.5 4.6 L8.2 0.8" fill="none" stroke="#b5b5b5" stroke-width="1.2"/></svg></div><div class="sel" style="top:94.8px"><span style="color:#3a3a3a;font-size:10px">2024/04/01 05:00</span><svg width="10" height="10" viewBox="0 0 10 10" style="position:absolute;right:5px;top:2.5px"><rect x="0.7" y="1.2" width="8.6" height="8" fill="none" stroke="#ccc" stroke-width="0.9"/><line x1="0.7" y1="3.6" x2="9.3" y2="3.6" stroke="#ccc" stroke-width="0.9"/><line x1="3" y1="0" x2="3" y2="2" stroke="#ccc"/><line x1="7" y1="0" x2="7" y2="2" stroke="#ccc"/></svg></div><div class="sel" style="top:113.8px;height:14.5px"><span style="font-size:10px">Count</span><svg width="9" height="6" viewBox="0 0 9 6" style="position:absolute;right:3.5px;top:4.5px"><path d="M0.8 0.8 L4.5 4.6 L8.2 0.8" fill="none" stroke="#b5b5b5" stroke-width="1.2"/></svg></div><div class="btn" style="top:131.0px"><svg width="10" height="9" viewBox="0 0 10 9" style="position:absolute;left:6px;top:3.6px"><path d="M0.6 0.3 V7.9 H9.6" fill="none" stroke="#eef5ff" stroke-width="1.1"/><path d="M2.2 7.4 V4.2 L3.9 5.6 L5.6 2.4 L7.1 4.9 L8.8 1.9 V7.4 Z" fill="#eef5ff"/></svg><span>Go to Asset</span></div><div class="xb" style="top:166.1px"><svg width="14" height="14" viewBox="0 0 14 14" style="position:absolute;left:0;top:0"><path d="M3.9 3.9 L10.2 10.2 M10.2 3.9 L3.9 10.2" stroke="#151515" stroke-width="1.9" stroke-linecap="round"/></svg></div><div class="sel dis" style="top:184.7px"><span>Station 1 (Press Ma...</span><svg width="9" height="6" viewBox="0 0 9 6" style="position:absolute;right:3.5px;top:4.5px"><path d="M0.8 0.8 L4.5 4.6 L8.2 0.8" fill="none" stroke="#b5b5b5" stroke-width="1.2"/></svg></div><div class="sel" style="top:203.1px"><span style="color:#3a3a3a;font-size:10px">2024/04/02 05:00</span><svg width="10" height="10" viewBox="0 0 10 10" style="position:absolute;right:5px;top:2.5px"><rect x="0.7" y="1.2" width="8.6" height="8" fill="none" stroke="#ccc" stroke-width="0.9"/><line x1="0.7" y1="3.6" x2="9.3" y2="3.6" stroke="#ccc" stroke-width="0.9"/><line x1="3" y1="0" x2="3" y2="2" stroke="#ccc"/><line x1="7" y1="0" x2="7" y2="2" stroke="#ccc"/></svg></div><div class="sel" style="top:222.1px;height:14.5px"><span style="font-size:10px">Count</span><svg width="9" height="6" viewBox="0 0 9 6" style="position:absolute;right:3.5px;top:4.5px"><path d="M0.8 0.8 L4.5 4.6 L8.2 0.8" fill="none" stroke="#b5b5b5" stroke-width="1.2"/></svg></div><div class="btn" style="top:239.3px"><svg width="10" height="9" viewBox="0 0 10 9" style="position:absolute;left:6px;top:3.6px"><path d="M0.6 0.3 V7.9 H9.6" fill="none" stroke="#eef5ff" stroke-width="1.1"/><path d="M2.2 7.4 V4.2 L3.9 5.6 L5.6 2.4 L7.1 4.9 L8.8 1.9 V7.4 Z" fill="#eef5ff"/></svg><span>Go to Asset</span></div><div class="xb" style="top:274.4px"><svg width="14" height="14" viewBox="0 0 14 14" style="position:absolute;left:0;top:0"><path d="M3.9 3.9 L10.2 10.2 M10.2 3.9 L3.9 10.2" stroke="#151515" stroke-width="1.9" stroke-linecap="round"/></svg></div><div class="sel dis" style="top:293.0px"><span>Station 1 (Press Ma...</span><svg width="9" height="6" viewBox="0 0 9 6" style="position:absolute;right:3.5px;top:4.5px"><path d="M0.8 0.8 L4.5 4.6 L8.2 0.8" fill="none" stroke="#b5b5b5" stroke-width="1.2"/></svg></div><div class="sel" style="top:311.4px"><span style="color:#3a3a3a;font-size:10px">2024/04/03 05:00</span><svg width="10" height="10" viewBox="0 0 10 10" style="position:absolute;right:5px;top:2.5px"><rect x="0.7" y="1.2" width="8.6" height="8" fill="none" stroke="#ccc" stroke-width="0.9"/><line x1="0.7" y1="3.6" x2="9.3" y2="3.6" stroke="#ccc" stroke-width="0.9"/><line x1="3" y1="0" x2="3" y2="2" stroke="#ccc"/><line x1="7" y1="0" x2="7" y2="2" stroke="#ccc"/></svg></div><div class="sel" style="top:330.4px;height:14.5px"><span style="font-size:10px">Count</span><svg width="9" height="6" viewBox="0 0 9 6" style="position:absolute;right:3.5px;top:4.5px"><path d="M0.8 0.8 L4.5 4.6 L8.2 0.8" fill="none" stroke="#b5b5b5" stroke-width="1.2"/></svg></div><div class="btn" style="top:347.6px"><svg width="10" height="9" viewBox="0 0 10 9" style="position:absolute;left:6px;top:3.6px"><path d="M0.6 0.3 V7.9 H9.6" fill="none" stroke="#eef5ff" stroke-width="1.1"/><path d="M2.2 7.4 V4.2 L3.9 5.6 L5.6 2.4 L7.1 4.9 L8.8 1.9 V7.4 Z" fill="#eef5ff"/></svg><span>Go to Asset</span></div><div class="xb" style="top:382.7px"><svg width="14" height="14" viewBox="0 0 14 14" style="position:absolute;left:0;top:0"><path d="M3.9 3.9 L10.2 10.2 M10.2 3.9 L3.9 10.2" stroke="#151515" stroke-width="1.9" stroke-linecap="round"/></svg></div><div class="sel dis" style="top:401.3px"><span>Station 1 (Press Ma...</span><svg width="9" height="6" viewBox="0 0 9 6" style="position:absolute;right:3.5px;top:4.5px"><path d="M0.8 0.8 L4.5 4.6 L8.2 0.8" fill="none" stroke="#b5b5b5" stroke-width="1.2"/></svg></div><div class="sel" style="top:419.7px"><span style="color:#3a3a3a;font-size:10px">2024/04/04 05:00</span><svg width="10" height="10" viewBox="0 0 10 10" style="position:absolute;right:5px;top:2.5px"><rect x="0.7" y="1.2" width="8.6" height="8" fill="none" stroke="#ccc" stroke-width="0.9"/><line x1="0.7" y1="3.6" x2="9.3" y2="3.6" stroke="#ccc" stroke-width="0.9"/><line x1="3" y1="0" x2="3" y2="2" stroke="#ccc"/><line x1="7" y1="0" x2="7" y2="2" stroke="#ccc"/></svg></div><div class="sel" style="top:438.7px;height:14.5px"><span style="font-size:10px">Count</span><svg width="9" height="6" viewBox="0 0 9 6" style="position:absolute;right:3.5px;top:4.5px"><path d="M0.8 0.8 L4.5 4.6 L8.2 0.8" fill="none" stroke="#b5b5b5" stroke-width="1.2"/></svg></div><div class="btn" style="top:455.9px"><svg width="10" height="9" viewBox="0 0 10 9" style="position:absolute;left:6px;top:3.6px"><path d="M0.6 0.3 V7.9 H9.6" fill="none" stroke="#eef5ff" stroke-width="1.1"/><path d="M2.2 7.4 V4.2 L3.9 5.6 L5.6 2.4 L7.1 4.9 L8.8 1.9 V7.4 Z" fill="#eef5ff"/></svg><span>Go to Asset</span></div><div class="xb" style="top:491.0px"><svg width="14" height="14" viewBox="0 0 14 14" style="position:absolute;left:0;top:0"><path d="M3.9 3.9 L10.2 10.2 M10.2 3.9 L3.9 10.2" stroke="#151515" stroke-width="1.9" stroke-linecap="round"/></svg></div><div class="sel dis" style="top:509.6px"><span>Station 1 (Press Ma...</span><svg width="9" height="6" viewBox="0 0 9 6" style="position:absolute;right:3.5px;top:4.5px"><path d="M0.8 0.8 L4.5 4.6 L8.2 0.8" fill="none" stroke="#b5b5b5" stroke-width="1.2"/></svg></div><div class="sel" style="top:528.0px"><span style="color:#3a3a3a;font-size:10px">2024/04/05 05:00</span><svg width="10" height="10" viewBox="0 0 10 10" style="position:absolute;right:5px;top:2.5px"><rect x="0.7" y="1.2" width="8.6" height="8" fill="none" stroke="#ccc" stroke-width="0.9"/><line x1="0.7" y1="3.6" x2="9.3" y2="3.6" stroke="#ccc" stroke-width="0.9"/><line x1="3" y1="0" x2="3" y2="2" stroke="#ccc"/><line x1="7" y1="0" x2="7" y2="2" stroke="#ccc"/></svg></div><div class="sel" style="top:547.0px;height:14.5px"><span style="font-size:10px">Count</span><svg width="9" height="6" viewBox="0 0 9 6" style="position:absolute;right:3.5px;top:4.5px"><path d="M0.8 0.8 L4.5 4.6 L8.2 0.8" fill="none" stroke="#b5b5b5" stroke-width="1.2"/></svg></div><div class="btn" style="top:564.2px"><svg width="10" height="9" viewBox="0 0 10 9" style="position:absolute;left:6px;top:3.6px"><path d="M0.6 0.3 V7.9 H9.6" fill="none" stroke="#eef5ff" stroke-width="1.1"/><path d="M2.2 7.4 V4.2 L3.9 5.6 L5.6 2.4 L7.1 4.9 L8.8 1.9 V7.4 Z" fill="#eef5ff"/></svg><span>Go to Asset</span></div>
<div class="ttl" style="left:1120px;top:18px"><div>Hour by hour output</div><div>fluctuation</div></div><div class="ttl" style="left:1133.4px;top:243.5px"><div>Hour by hour output</div><div>fluctuation</div></div>
</body></html>
